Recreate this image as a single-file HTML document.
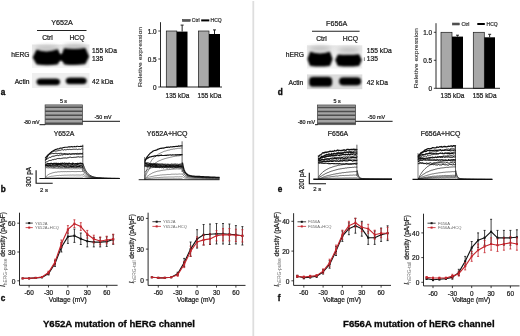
<!DOCTYPE html>
<html><head><meta charset="utf-8"><title>hERG mutation figure</title>
<style>
html,body{margin:0;padding:0;background:#fff;}
body{width:520px;height:336px;overflow:hidden;}
svg{display:block;font-family:"Liberation Sans",sans-serif;}
</style></head><body>
<svg width="520" height="336" viewBox="0 0 520 336">
<defs>
<filter id="b1" x="-20%" y="-40%" width="140%" height="180%"><feGaussianBlur stdDeviation="0.9"/></filter>
<filter id="b2" x="-20%" y="-40%" width="140%" height="180%"><feGaussianBlur stdDeviation="0.85"/></filter>
<filter id="b3" x="-30%" y="-60%" width="160%" height="220%"><feGaussianBlur stdDeviation="2"/></filter>
<filter id="tb"><feGaussianBlur stdDeviation="0.3"/></filter>
<linearGradient id="bg1" x1="0" y1="0" x2="0" y2="1"><stop offset="0" stop-color="#e6e6e6"/><stop offset="1" stop-color="#f4f4f4"/></linearGradient>
</defs>
<rect width="520" height="336" fill="#fff"/>
<rect x="252.4" y="1" width="1.8" height="335" fill="#dedede"/>

<text x="62.0" y="24.8" font-size="7.2" text-anchor="middle" font-weight="normal" fill="#1a1a1a" stroke="#1a1a1a" stroke-width="0.22" >Y652A</text>
<line x1="37" y1="30.5" x2="86.5" y2="30.5" stroke="#222" stroke-width="1.1"/>
<text x="47.5" y="40.4" font-size="6.8" text-anchor="middle" font-weight="normal" fill="#1a1a1a" stroke="#1a1a1a" stroke-width="0.22" >Ctrl</text>
<text x="77.0" y="40.4" font-size="6.8" text-anchor="middle" font-weight="normal" fill="#1a1a1a" stroke="#1a1a1a" stroke-width="0.22" >HCQ</text>
<rect x="32" y="44.5" width="57.5" height="23.5" fill="url(#bg1)"/>
<rect x="32" y="73" width="57.5" height="15" fill="#efefef"/>
<ellipse cx="47" cy="48" rx="12" ry="2.5" fill="#bdbdbd" filter="url(#b3)"/>
<ellipse cx="75" cy="46.5" rx="12" ry="2.5" fill="#bdbdbd" filter="url(#b3)"/>
<path d="M33.3 57.5 L36.8 50.2 Q47.15 54.0 57.5 49.8 L61 57.5 L57.5 63.8 Q47.15 65.4 36.8 63.8 Z" fill="#050505" stroke="#050505" stroke-width="1.2" stroke-linejoin="round" filter="url(#b1)"/>
<path d="M61 57.5 L64.5 48.8 Q74.75 50.5 85.0 48.6 L88.5 56.5 L85.0 63.6 Q74.75 65.1 64.5 63.8 Z" fill="#050505" stroke="#050505" stroke-width="1.2" stroke-linejoin="round" filter="url(#b1)"/>
<path d="M58 55 H65 V60 H58Z" fill="#050505" stroke="#050505" stroke-width="1.2" stroke-linejoin="round" filter="url(#b1)"/>
<rect x="36.6" y="78.8" width="23.4" height="6.200000000000003" rx="4" ry="3.4" fill="#000" stroke="#000" stroke-width="0.3" filter="url(#b2)"/>
<rect x="65.8" y="77.8" width="20.799999999999997" height="6.200000000000003" rx="4" ry="3.4" fill="#000" stroke="#000" stroke-width="0.3" filter="url(#b2)"/>
<text x="29.5" y="57.3" font-size="6.7" text-anchor="end" font-weight="normal" fill="#1a1a1a" stroke="#1a1a1a" stroke-width="0.22" >hERG</text>
<text x="29.5" y="84.0" font-size="6.7" text-anchor="end" font-weight="normal" fill="#1a1a1a" stroke="#1a1a1a" stroke-width="0.22" >Actin</text>
<text x="92.0" y="52.8" font-size="6.7" text-anchor="start" font-weight="normal" fill="#1a1a1a" stroke="#1a1a1a" stroke-width="0.22" >155 kDa</text>
<text x="92.0" y="61.3" font-size="6.7" text-anchor="start" font-weight="normal" fill="#1a1a1a" stroke="#1a1a1a" stroke-width="0.22" >135</text>
<text x="92.0" y="84.0" font-size="6.7" text-anchor="start" font-weight="normal" fill="#1a1a1a" stroke="#1a1a1a" stroke-width="0.22" >42 kDa</text>
<text x="336.6" y="25.5" font-size="7.2" text-anchor="middle" font-weight="normal" fill="#1a1a1a" stroke="#1a1a1a" stroke-width="0.22" >F656A</text>
<line x1="312" y1="31.3" x2="359.6" y2="31.3" stroke="#222" stroke-width="1.1"/>
<text x="321.5" y="40.8" font-size="6.8" text-anchor="middle" font-weight="normal" fill="#1a1a1a" stroke="#1a1a1a" stroke-width="0.22" >Ctrl</text>
<text x="350.4" y="40.8" font-size="6.8" text-anchor="middle" font-weight="normal" fill="#1a1a1a" stroke="#1a1a1a" stroke-width="0.22" >HCQ</text>
<rect x="307" y="45.3" width="55.30000000000001" height="23.299999999999997" fill="url(#bg1)"/>
<rect x="307" y="74.4" width="55.30000000000001" height="14.799999999999997" fill="#dcdcdc"/>
<ellipse cx="320" cy="48.5" rx="11" ry="2.5" fill="#bdbdbd" filter="url(#b3)"/>
<ellipse cx="349" cy="50" rx="11" ry="2.5" fill="#bdbdbd" filter="url(#b3)"/>
<path d="M308 59 L310.5 52.3 Q320.0 55.7 329.5 52.3 L332 59 L329.5 65.5 Q320.0 66.5 310.5 65.5 Z" fill="#050505" stroke="#050505" stroke-width="1.2" stroke-linejoin="round" filter="url(#b1)"/>
<path d="M335.8 60 L338.3 55 Q348.5 55.9 358.7 54.8 L361.2 60 L358.7 65.5 Q348.5 66.5 338.3 65.5 Z" fill="#050505" stroke="#050505" stroke-width="1.2" stroke-linejoin="round" filter="url(#b1)"/>
<rect x="309.2" y="77" width="22.80000000000001" height="9.599999999999994" rx="4" ry="3.4" fill="#000" stroke="#000" stroke-width="0.3" filter="url(#b2)"/>
<rect x="339.2" y="77.6" width="21.80000000000001" height="7.6000000000000085" rx="4" ry="3.4" fill="#000" stroke="#000" stroke-width="0.3" filter="url(#b2)"/>
<text x="304.0" y="57.3" font-size="6.7" text-anchor="end" font-weight="normal" fill="#1a1a1a" stroke="#1a1a1a" stroke-width="0.22" >hERG</text>
<text x="303.3" y="84.7" font-size="6.7" text-anchor="end" font-weight="normal" fill="#1a1a1a" stroke="#1a1a1a" stroke-width="0.22" >Actin</text>
<text x="366.8" y="52.8" font-size="6.7" text-anchor="start" font-weight="normal" fill="#1a1a1a" stroke="#1a1a1a" stroke-width="0.22" >155 kDa</text>
<text x="366.8" y="61.2" font-size="6.7" text-anchor="start" font-weight="normal" fill="#1a1a1a" stroke="#1a1a1a" stroke-width="0.22" >135</text>
<text x="366.8" y="84.7" font-size="6.7" text-anchor="start" font-weight="normal" fill="#1a1a1a" stroke="#1a1a1a" stroke-width="0.22" >42 kDa</text>
<path d="M364.4 57.3V61" stroke="#555" stroke-width="0.7"/>
<rect x="166.3" y="31" width="10.5" height="56" fill="#a8a8a8" stroke="#1a1a1a" stroke-width="0.7"/>
<rect x="198.4" y="31" width="10.599999999999994" height="56" fill="#a8a8a8" stroke="#1a1a1a" stroke-width="0.7"/>
<rect x="176.8" y="31.6" width="10.699999999999989" height="55.4" fill="#000"/>
<rect x="209" y="34" width="11" height="53" fill="#000"/>
<path d="M182.15 31.6V25.1M180.65 25.1H183.65" stroke="#222" stroke-width="1" fill="none"/>
<path d="M214.5 34V29.9M213.0 29.9H216.0" stroke="#222" stroke-width="1" fill="none"/>
<path d="M160.5 22.2V87H222" stroke="#111" stroke-width="0.9" fill="none"/>
<line x1="158.3" y1="31" x2="160.5" y2="31" stroke="#111" stroke-width="0.8"/>
<text x="156.6" y="33.5" font-size="6.4" text-anchor="end" font-weight="normal" fill="#1a1a1a" stroke="#1a1a1a" stroke-width="0.22" >1.0</text>
<line x1="158.3" y1="59.0" x2="160.5" y2="59.0" stroke="#111" stroke-width="0.8"/>
<text x="156.6" y="61.5" font-size="6.4" text-anchor="end" font-weight="normal" fill="#1a1a1a" stroke="#1a1a1a" stroke-width="0.22" >0.5</text>
<line x1="158.3" y1="87" x2="160.5" y2="87" stroke="#111" stroke-width="0.8"/>
<text x="156.6" y="89.5" font-size="6.4" text-anchor="end" font-weight="normal" fill="#1a1a1a" stroke="#1a1a1a" stroke-width="0.22" >0</text>
<text transform="translate(142.0,57.0) rotate(-90) scale(1,0.82)" font-size="6.9" text-anchor="middle" fill="#2a2a2a" stroke="#2a2a2a" stroke-width="0.12">Reletive expression</text>
<text x="177.5" y="97.5" font-size="6.4" text-anchor="middle" font-weight="normal" fill="#1a1a1a" stroke="#1a1a1a" stroke-width="0.22" >135 kDa</text>
<text x="209.5" y="97.5" font-size="6.4" text-anchor="middle" font-weight="normal" fill="#1a1a1a" stroke="#1a1a1a" stroke-width="0.22" >155 kDa</text>
<rect x="182.4" y="19.4" width="7.799999999999983" height="2" fill="#585858" stroke="#333" stroke-width="0.5"/>
<text x="191.8" y="22.2" font-size="5" text-anchor="start" font-weight="normal" fill="#333" stroke="#333" stroke-width="0.22" >Ctrl</text>
<rect x="201.2" y="19.4" width="8.100000000000023" height="2" fill="#000"/>
<text x="210.6" y="22.2" font-size="5" text-anchor="start" font-weight="normal" fill="#333" stroke="#333" stroke-width="0.22" >HCQ</text>
<rect x="441" y="32.3" width="11" height="56.0" fill="#a8a8a8" stroke="#1a1a1a" stroke-width="0.7"/>
<rect x="473.3" y="32.3" width="11.0" height="56.0" fill="#a8a8a8" stroke="#1a1a1a" stroke-width="0.7"/>
<rect x="452" y="36.6" width="11" height="51.699999999999996" fill="#000"/>
<rect x="484.3" y="37.3" width="10.699999999999989" height="51.0" fill="#000"/>
<path d="M457.5 36.6V35.2M456.0 35.2H459.0" stroke="#222" stroke-width="1" fill="none"/>
<path d="M489.65 37.3V34.3M488.15 34.3H491.15" stroke="#222" stroke-width="1" fill="none"/>
<path d="M436 23.2V88.3H500" stroke="#111" stroke-width="0.9" fill="none"/>
<line x1="433.8" y1="32.3" x2="436" y2="32.3" stroke="#111" stroke-width="0.8"/>
<text x="432.1" y="34.8" font-size="6.4" text-anchor="end" font-weight="normal" fill="#1a1a1a" stroke="#1a1a1a" stroke-width="0.22" >1.0</text>
<line x1="433.8" y1="60.3" x2="436" y2="60.3" stroke="#111" stroke-width="0.8"/>
<text x="432.1" y="62.8" font-size="6.4" text-anchor="end" font-weight="normal" fill="#1a1a1a" stroke="#1a1a1a" stroke-width="0.22" >0.5</text>
<line x1="433.8" y1="88.3" x2="436" y2="88.3" stroke="#111" stroke-width="0.8"/>
<text x="432.1" y="90.8" font-size="6.4" text-anchor="end" font-weight="normal" fill="#1a1a1a" stroke="#1a1a1a" stroke-width="0.22" >0</text>
<text transform="translate(417.6,58.3) rotate(-90) scale(1,0.82)" font-size="6.9" text-anchor="middle" fill="#2a2a2a" stroke="#2a2a2a" stroke-width="0.12">Reletive expression</text>
<text x="452.5" y="97.5" font-size="6.4" text-anchor="middle" font-weight="normal" fill="#1a1a1a" stroke="#1a1a1a" stroke-width="0.22" >135 kDa</text>
<text x="484.6" y="97.5" font-size="6.4" text-anchor="middle" font-weight="normal" fill="#1a1a1a" stroke="#1a1a1a" stroke-width="0.22" >155 kDa</text>
<rect x="452.5" y="23" width="6.800000000000011" height="2" fill="#585858" stroke="#333" stroke-width="0.5"/>
<text x="461.6" y="25.8" font-size="5" text-anchor="start" font-weight="normal" fill="#333" stroke="#333" stroke-width="0.22" >Ctrl</text>
<rect x="477.3" y="23" width="7.5" height="2" fill="#000"/>
<text x="486.6" y="25.8" font-size="5" text-anchor="start" font-weight="normal" fill="#333" stroke="#333" stroke-width="0.22" >HCQ</text>
<text x="0.8" y="95.4" font-size="8.2" text-anchor="start" font-weight="bold" fill="#0a0a0a" stroke="#0a0a0a" stroke-width="0.35" >a</text>
<text x="0.8" y="192.0" font-size="8.2" text-anchor="start" font-weight="bold" fill="#0a0a0a" stroke="#0a0a0a" stroke-width="0.35" >b</text>
<text x="0.8" y="301.2" font-size="8.2" text-anchor="start" font-weight="bold" fill="#0a0a0a" stroke="#0a0a0a" stroke-width="0.35" >c</text>
<text x="277.8" y="95.4" font-size="8.2" text-anchor="start" font-weight="bold" fill="#0a0a0a" stroke="#0a0a0a" stroke-width="0.35" >d</text>
<text x="277.8" y="192.3" font-size="8.2" text-anchor="start" font-weight="bold" fill="#0a0a0a" stroke="#0a0a0a" stroke-width="0.35" >e</text>
<text x="277.8" y="301.2" font-size="8.2" text-anchor="start" font-weight="bold" fill="#0a0a0a" stroke="#0a0a0a" stroke-width="0.35" >f</text>
<rect x="45.1" y="104.9" width="37.300000000000004" height="19.799999999999997" fill="#a4a4a4" stroke="#3a3a3a" stroke-width="0.7"/>
<line x1="45.1" y1="107.36" x2="82.4" y2="107.36" stroke="#4e4e4e" stroke-width="1.5"/>
<line x1="45.1" y1="111.32" x2="82.4" y2="111.32" stroke="#4e4e4e" stroke-width="1.5"/>
<line x1="45.1" y1="115.28" x2="82.4" y2="115.28" stroke="#4e4e4e" stroke-width="1.5"/>
<line x1="45.1" y1="119.24" x2="82.4" y2="119.24" stroke="#4e4e4e" stroke-width="1.5"/>
<line x1="45.1" y1="123.20" x2="82.4" y2="123.20" stroke="#4e4e4e" stroke-width="1.5"/>
<path d="M39.5 124.7H45.1M82.4 121.3H120" stroke="#151515" stroke-width="1" fill="none"/>
<text x="63.5" y="103.4" font-size="5.3" text-anchor="middle" font-weight="normal" fill="#1a1a1a" stroke="#1a1a1a" stroke-width="0.22" >5 s</text>
<text x="39.5" y="124.1" font-size="4.9" text-anchor="end" font-weight="normal" fill="#1a1a1a" stroke="#1a1a1a" stroke-width="0.22" >-80 mV</text>
<text x="94.5" y="119.4" font-size="5.3" text-anchor="start" font-weight="normal" fill="#1a1a1a" stroke="#1a1a1a" stroke-width="0.22" >-50 mV</text>
<rect x="317.5" y="105" width="38.0" height="19.700000000000003" fill="#a4a4a4" stroke="#3a3a3a" stroke-width="0.7"/>
<line x1="317.5" y1="107.44" x2="355.5" y2="107.44" stroke="#4e4e4e" stroke-width="1.5"/>
<line x1="317.5" y1="111.38" x2="355.5" y2="111.38" stroke="#4e4e4e" stroke-width="1.5"/>
<line x1="317.5" y1="115.32" x2="355.5" y2="115.32" stroke="#4e4e4e" stroke-width="1.5"/>
<line x1="317.5" y1="119.26" x2="355.5" y2="119.26" stroke="#4e4e4e" stroke-width="1.5"/>
<line x1="317.5" y1="123.20" x2="355.5" y2="123.20" stroke="#4e4e4e" stroke-width="1.5"/>
<path d="M315 124.7H317.5M355.5 121.3H392.6" stroke="#151515" stroke-width="1" fill="none"/>
<text x="337.0" y="103.4" font-size="5.4" text-anchor="middle" font-weight="normal" fill="#1a1a1a" stroke="#1a1a1a" stroke-width="0.22" >5 s</text>
<text x="315.0" y="124.1" font-size="5.4" text-anchor="end" font-weight="normal" fill="#1a1a1a" stroke="#1a1a1a" stroke-width="0.22" >-80 mV</text>
<text x="367.8" y="119.4" font-size="5.4" text-anchor="start" font-weight="normal" fill="#1a1a1a" stroke="#1a1a1a" stroke-width="0.22" >-50 mV</text>
<path d="M39.4 178.5H119.5" stroke="#111" stroke-width="1.0" fill="none"/>
<path d="M45.7 159.8 L46.4 158.5 L47.2 157.1 L47.9 155.7 L48.7 154.7 L49.4 153.8 L50.2 153.2 L50.9 152.5 L51.6 151.6 L52.4 151.1 L53.1 151.0 L53.9 150.4 L54.6 150.2 L55.3 149.5 L56.1 149.4 L56.8 149.3 L57.6 148.8 L58.3 149.0 L59.1 148.8 L59.8 148.2 L60.5 148.0 L61.3 148.1 L62.0 148.2 L62.8 147.8 L63.5 147.5 L64.2 147.5 L65.0 147.2 L65.7 147.2 L66.5 147.3 L67.2 147.2 L68.0 147.0 L68.7 146.9 L69.4 146.8 L70.2 146.9 L70.9 146.7 L71.7 146.6 L72.4 146.9 L73.2 146.7 L73.9 146.7 L74.6 146.4 L75.4 146.8 L76.1 146.7 L76.9 146.3 L77.6 146.3 L78.3 146.5 L79.1 146.5 L79.8 146.5 L80.6 146.2 L81.3 146.4 L82.1 146.3 L82.8 146.1" stroke="#111" stroke-width="1.1" fill="none" stroke-linejoin="round" stroke-linecap="round"/>
<path d="M45.7 157.6 L46.4 156.8 L47.2 156.0 L47.9 155.2 L48.7 154.8 L49.4 154.1 L50.2 153.9 L50.9 154.0 L51.6 153.6 L52.4 153.4 L53.1 153.5 L53.9 153.6 L54.6 153.5 L55.3 153.3 L56.1 153.4 L56.8 153.4 L57.6 153.6 L58.3 153.5 L59.1 153.4 L59.8 153.5 L60.5 153.3 L61.3 153.3 L62.0 153.7 L62.8 153.9 L63.5 153.7 L64.2 153.6 L65.0 153.5 L65.7 153.7 L66.5 154.0 L67.2 153.9 L68.0 153.8 L68.7 154.0 L69.4 153.7 L70.2 153.9 L70.9 154.1 L71.7 153.9 L72.4 153.9 L73.2 153.8 L73.9 154.0 L74.6 154.2 L75.4 153.6 L76.1 154.1 L76.9 154.2 L77.6 154.2 L78.3 154.1 L79.1 154.2 L79.8 154.0 L80.6 154.0 L81.3 153.9 L82.1 153.7 L82.8 154.2" stroke="#111" stroke-width="1.0" fill="none" stroke-linejoin="round" stroke-linecap="round"/>
<path d="M45.7 157.5 L46.4 156.2 L47.2 155.5 L47.9 154.7 L48.7 153.9 L49.4 153.4 L50.2 153.0 L50.9 152.6 L51.6 152.3 L52.4 151.9 L53.1 151.3 L53.9 151.2 L54.6 151.0 L55.3 151.1 L56.1 151.1 L56.8 150.9 L57.6 150.8 L58.3 150.7 L59.1 150.2 L59.8 150.5 L60.5 150.3 L61.3 149.9 L62.0 149.8 L62.8 149.7 L63.5 150.1 L64.2 149.7 L65.0 149.6 L65.7 149.9 L66.5 149.7 L67.2 149.4 L68.0 149.5 L68.7 149.6 L69.4 149.4 L70.2 149.4 L70.9 149.7 L71.7 149.5 L72.4 149.4 L73.2 149.4 L73.9 149.1 L74.6 149.3 L75.4 149.3 L76.1 149.2 L76.9 149.1 L77.6 149.6 L78.3 149.3 L79.1 149.1 L79.8 149.3 L80.6 149.4 L81.3 148.9 L82.1 148.9 L82.8 149.0" stroke="#111" stroke-width="0.9" fill="none" stroke-linejoin="round" stroke-linecap="round"/>
<path d="M45.7 160.1 L46.4 159.2 L47.2 158.9 L47.9 158.5 L48.7 158.0 L49.4 157.4 L50.2 157.5 L50.9 157.2 L51.6 156.7 L52.4 156.3 L53.1 156.4 L53.9 156.0 L54.6 156.0 L55.3 155.7 L56.1 155.7 L56.8 155.3 L57.6 155.3 L58.3 155.6 L59.1 155.4 L59.8 155.0 L60.5 155.2 L61.3 154.8 L62.0 155.1 L62.8 154.9 L63.5 154.6 L64.2 154.4 L65.0 154.2 L65.7 154.7 L66.5 154.1 L67.2 154.5 L68.0 154.5 L68.7 154.2 L69.4 154.0 L70.2 154.3 L70.9 154.3 L71.7 154.1 L72.4 153.9 L73.2 153.8 L73.9 153.8 L74.6 153.6 L75.4 153.9 L76.1 153.7 L76.9 153.5 L77.6 153.4 L78.3 153.7 L79.1 153.4 L79.8 153.5 L80.6 153.4 L81.3 153.7 L82.1 153.7 L82.8 153.1" stroke="#111" stroke-width="1.0" fill="none" stroke-linejoin="round" stroke-linecap="round"/>
<path d="M45.7 162.3 L46.4 161.9 L47.2 161.9 L47.9 161.4 L48.7 160.8 L49.4 160.5 L50.2 160.5 L50.9 160.4 L51.6 160.2 L52.4 159.7 L53.1 159.8 L53.9 159.5 L54.6 159.3 L55.3 159.4 L56.1 158.9 L56.8 159.0 L57.6 158.5 L58.3 158.5 L59.1 158.8 L59.8 158.3 L60.5 158.6 L61.3 158.4 L62.0 158.4 L62.8 158.1 L63.5 158.0 L64.2 157.9 L65.0 158.2 L65.7 157.9 L66.5 158.1 L67.2 158.0 L68.0 157.5 L68.7 157.7 L69.4 157.3 L70.2 157.2 L70.9 157.2 L71.7 157.6 L72.4 157.5 L73.2 157.5 L73.9 157.2 L74.6 157.3 L75.4 157.3 L76.1 157.1 L76.9 157.1 L77.6 156.9 L78.3 156.8 L79.1 156.8 L79.8 157.2 L80.6 156.9 L81.3 157.1 L82.1 156.8 L82.8 156.7" stroke="#111" stroke-width="1.0" fill="none" stroke-linejoin="round" stroke-linecap="round"/>
<path d="M45.7 164.4 L46.4 164.3 L47.2 163.6 L47.9 163.9 L48.7 163.5 L49.4 163.5 L50.2 163.9 L50.9 163.3 L51.6 163.4 L52.4 163.8 L53.1 163.5 L53.9 163.3 L54.6 163.3 L55.3 163.3 L56.1 163.6 L56.8 163.2 L57.6 163.7 L58.3 163.4 L59.1 163.7 L59.8 163.7 L60.5 163.3 L61.3 163.3 L62.0 163.4 L62.8 163.2 L63.5 163.5 L64.2 163.2 L65.0 163.2 L65.7 163.8 L66.5 163.3 L67.2 163.5 L68.0 163.4 L68.7 163.4 L69.4 163.2 L70.2 163.7 L70.9 163.8 L71.7 163.8 L72.4 163.2 L73.2 163.3 L73.9 163.6 L74.6 163.8 L75.4 163.5 L76.1 163.6 L76.9 163.6 L77.6 163.3 L78.3 163.5 L79.1 163.4 L79.8 163.3 L80.6 163.2 L81.3 163.4 L82.1 163.8 L82.8 163.5" stroke="#111" stroke-width="1.2" fill="none" stroke-linejoin="round" stroke-linecap="round"/>
<path d="M45.7 165.5 L46.4 165.4 L47.2 165.4 L47.9 165.0 L48.7 164.9 L49.4 164.8 L50.2 164.8 L50.9 165.1 L51.6 165.1 L52.4 164.7 L53.1 164.7 L53.9 164.8 L54.6 164.8 L55.3 164.8 L56.1 164.6 L56.8 164.5 L57.6 164.6 L58.3 164.5 L59.1 164.8 L59.8 164.5 L60.5 164.5 L61.3 164.9 L62.0 164.7 L62.8 165.0 L63.5 164.8 L64.2 165.0 L65.0 164.6 L65.7 164.8 L66.5 165.0 L67.2 164.6 L68.0 165.1 L68.7 164.7 L69.4 165.0 L70.2 165.1 L70.9 165.1 L71.7 164.8 L72.4 164.6 L73.2 164.9 L73.9 165.1 L74.6 164.8 L75.4 165.1 L76.1 164.7 L76.9 165.1 L77.6 164.6 L78.3 164.8 L79.1 165.1 L79.8 165.1 L80.6 165.1 L81.3 165.1 L82.1 165.0 L82.8 165.0" stroke="#111" stroke-width="1.2" fill="none" stroke-linejoin="round" stroke-linecap="round"/>
<path d="M45.7 165.3 L46.4 165.5 L47.2 165.4 L47.9 165.8 L48.7 165.8 L49.4 165.6 L50.2 165.5 L50.9 166.1 L51.6 166.0 L52.4 165.9 L53.1 165.9 L53.9 166.1 L54.6 165.9 L55.3 165.9 L56.1 165.9 L56.8 165.9 L57.6 165.7 L58.3 166.1 L59.1 166.0 L59.8 166.1 L60.5 165.8 L61.3 166.0 L62.0 165.9 L62.8 165.9 L63.5 166.0 L64.2 166.4 L65.0 166.1 L65.7 166.1 L66.5 166.3 L67.2 166.0 L68.0 165.9 L68.7 166.2 L69.4 166.2 L70.2 166.3 L70.9 166.2 L71.7 166.4 L72.4 166.4 L73.2 166.1 L73.9 166.3 L74.6 166.2 L75.4 166.1 L76.1 166.2 L76.9 166.3 L77.6 166.5 L78.3 166.5 L79.1 166.2 L79.8 166.4 L80.6 166.0 L81.3 166.0 L82.1 166.3 L82.8 166.5" stroke="#111" stroke-width="1.2" fill="none" stroke-linejoin="round" stroke-linecap="round"/>
<path d="M45.7 166.4 L46.4 166.8 L47.2 166.9 L47.9 166.6 L48.7 166.9 L49.4 167.0 L50.2 166.8 L50.9 167.0 L51.6 167.1 L52.4 167.0 L53.1 167.2 L53.9 167.2 L54.6 167.3 L55.3 167.1 L56.1 166.9 L56.8 166.9 L57.6 167.0 L58.3 167.2 L59.1 167.3 L59.8 166.9 L60.5 167.3 L61.3 167.3 L62.0 167.1 L62.8 167.2 L63.5 167.0 L64.2 167.4 L65.0 167.0 L65.7 167.6 L66.5 167.5 L67.2 167.4 L68.0 167.2 L68.7 167.6 L69.4 167.6 L70.2 167.1 L70.9 167.5 L71.7 167.5 L72.4 167.4 L73.2 167.5 L73.9 167.3 L74.6 167.6 L75.4 167.6 L76.1 167.3 L76.9 167.6 L77.6 167.3 L78.3 167.2 L79.1 167.3 L79.8 167.2 L80.6 167.6 L81.3 167.7 L82.1 167.2 L82.8 167.5" stroke="#111" stroke-width="1.0" fill="none" stroke-linejoin="round" stroke-linecap="round"/>
<path d="M45.7 167.8 L46.4 167.7 L47.2 167.9 L47.9 167.9 L48.7 168.1 L49.4 167.9 L50.2 168.0 L50.9 168.1 L51.6 168.1 L52.4 168.3 L53.1 168.3 L53.9 168.4 L54.6 168.3 L55.3 168.3 L56.1 168.4 L56.8 168.4 L57.6 168.5 L58.3 168.4 L59.1 168.6 L59.8 168.6 L60.5 168.6 L61.3 168.7 L62.0 168.6 L62.8 168.6 L63.5 168.7 L64.2 168.7 L65.0 168.7 L65.7 168.6 L66.5 168.6 L67.2 168.6 L68.0 168.8 L68.7 168.6 L69.4 168.8 L70.2 168.7 L70.9 168.9 L71.7 168.8 L72.4 168.9 L73.2 168.6 L73.9 168.7 L74.6 168.8 L75.4 168.7 L76.1 168.8 L76.9 168.7 L77.6 168.8 L78.3 168.6 L79.1 168.8 L79.8 168.8 L80.6 168.7 L81.3 168.8 L82.1 168.9 L82.8 168.9" stroke="#111" stroke-width="0.5" fill="none" stroke-linejoin="round" stroke-linecap="round"/>
<path d="M45.7 177.0 L46.4 176.2 L47.2 175.5 L47.9 174.9 L48.7 174.4 L49.4 174.0 L50.2 173.7 L50.9 173.5 L51.6 173.2 L52.4 172.9 L53.1 172.8 L53.9 172.5 L54.6 172.4 L55.3 172.2 L56.1 172.2 L56.8 172.2 L57.6 171.9 L58.3 171.8 L59.1 171.9 L59.8 171.8 L60.5 171.7 L61.3 171.6 L62.0 171.7 L62.8 171.7 L63.5 171.6 L64.2 171.7 L65.0 171.6 L65.7 171.6 L66.5 171.7 L67.2 171.6 L68.0 171.6 L68.7 171.6 L69.4 171.6 L70.2 171.6 L70.9 171.6 L71.7 171.5 L72.4 171.5 L73.2 171.5 L73.9 171.6 L74.6 171.6 L75.4 171.6 L76.1 171.6 L76.9 171.6 L77.6 171.5 L78.3 171.5 L79.1 171.5 L79.8 171.5 L80.6 171.6 L81.3 171.5 L82.1 171.4 L82.8 171.6" stroke="#111" stroke-width="0.5" fill="none" stroke-linejoin="round" stroke-linecap="round"/>
<path d="M45.7 178.0 L46.4 177.7 L47.2 177.4 L47.9 177.2 L48.7 177.1 L49.4 176.8 L50.2 176.6 L50.9 176.5 L51.6 176.2 L52.4 176.2 L53.1 176.2 L53.9 176.0 L54.6 175.9 L55.3 175.8 L56.1 175.7 L56.8 175.6 L57.6 175.5 L58.3 175.6 L59.1 175.4 L59.8 175.3 L60.5 175.5 L61.3 175.4 L62.0 175.3 L62.8 175.3 L63.5 175.3 L64.2 175.2 L65.0 175.2 L65.7 175.2 L66.5 175.2 L67.2 175.1 L68.0 175.2 L68.7 175.1 L69.4 175.1 L70.2 175.0 L70.9 175.1 L71.7 175.1 L72.4 175.0 L73.2 175.0 L73.9 175.1 L74.6 175.1 L75.4 175.1 L76.1 174.9 L76.9 175.1 L77.6 175.0 L78.3 175.0 L79.1 175.0 L79.8 175.1 L80.6 175.1 L81.3 174.9 L82.1 175.0 L82.8 174.9" stroke="#111" stroke-width="0.45" fill="none" stroke-linejoin="round" stroke-linecap="round"/>
<path d="M45.7 178.3 L46.4 178.2 L47.2 178.2 L47.9 178.1 L48.7 178.1 L49.4 178.0 L50.2 178.0 L50.9 177.9 L51.6 177.8 L52.4 177.8 L53.1 177.8 L53.9 177.8 L54.6 177.7 L55.3 177.7 L56.1 177.7 L56.8 177.6 L57.6 177.5 L58.3 177.5 L59.1 177.5 L59.8 177.5 L60.5 177.5 L61.3 177.4 L62.0 177.5 L62.8 177.5 L63.5 177.4 L64.2 177.4 L65.0 177.4 L65.7 177.4 L66.5 177.4 L67.2 177.4 L68.0 177.3 L68.7 177.4 L69.4 177.3 L70.2 177.3 L70.9 177.3 L71.7 177.3 L72.4 177.3 L73.2 177.3 L73.9 177.2 L74.6 177.2 L75.4 177.3 L76.1 177.2 L76.9 177.2 L77.6 177.2 L78.3 177.2 L79.1 177.2 L79.8 177.2 L80.6 177.3 L81.3 177.3 L82.1 177.2 L82.8 177.2" stroke="#111" stroke-width="0.4" fill="none" stroke-linejoin="round" stroke-linecap="round"/>
<path d="M83.1 164.0 L83.1 164.2 L83.3 164.6 L83.4 165.1 L83.7 165.8 L84.0 166.6 L84.3 167.5 L84.7 168.4 L85.1 169.4 L85.6 170.3 L86.1 171.2 L86.7 172.1 L87.3 172.8 L87.9 173.6 L88.6 174.2 L89.3 174.8 L90.1 175.4 L90.9 175.8 L91.7 176.2 L92.6 176.6 L93.6 176.9 L94.5 177.1 L95.5 177.3 L96.5 177.5 L97.6 177.7 L98.7 177.8 L99.9 177.9 L101.0 178.0 L102.3 178.1 L103.5 178.1 L104.8 178.2 L106.1 178.2 L107.5 178.3 L108.8 178.3 L110.3 178.3 L111.7 178.4 L113.2 178.4 L114.7 178.4 L116.3 178.4 L117.9 178.4 L119.5 178.4" stroke="#111" stroke-width="1.0" fill="none" stroke-linejoin="round"/>
<path d="M83.1 167.2 L83.1 167.3 L83.3 167.7 L83.4 168.1 L83.7 168.7 L84.0 169.4 L84.3 170.1 L84.7 170.8 L85.1 171.6 L85.6 172.3 L86.1 173.0 L86.7 173.7 L87.3 174.3 L87.9 174.9 L88.6 175.4 L89.3 175.9 L90.1 176.2 L90.9 176.6 L91.7 176.9 L92.6 177.1 L93.6 177.3 L94.5 177.5 L95.5 177.7 L96.5 177.8 L97.6 177.9 L98.7 178.0 L99.9 178.1 L101.0 178.1 L102.3 178.2 L103.5 178.2 L104.8 178.3 L106.1 178.3 L107.5 178.3 L108.8 178.4 L110.3 178.4 L111.7 178.4 L113.2 178.4 L114.7 178.4 L116.3 178.4 L117.9 178.4 L119.5 178.5" stroke="#111" stroke-width="0.8" fill="none" stroke-linejoin="round"/>
<path d="M83.1 170.3 L83.1 170.4 L83.3 170.7 L83.4 171.0 L83.7 171.5 L84.0 172.0 L84.3 172.5 L84.7 173.1 L85.1 173.6 L85.6 174.2 L86.1 174.7 L86.7 175.2 L87.3 175.7 L87.9 176.1 L88.6 176.4 L89.3 176.7 L90.1 177.0 L90.9 177.2 L91.7 177.4 L92.6 177.6 L93.6 177.8 L94.5 177.9 L95.5 178.0 L96.5 178.1 L97.6 178.1 L98.7 178.2 L99.9 178.2 L101.0 178.3 L102.3 178.3 L103.5 178.3 L104.8 178.4 L106.1 178.4 L107.5 178.4 L108.8 178.4 L110.3 178.4 L111.7 178.4 L113.2 178.4 L114.7 178.4 L116.3 178.5 L117.9 178.5 L119.5 178.5" stroke="#111" stroke-width="0.7" fill="none" stroke-linejoin="round"/>
<path d="M83.1 173.7 L83.1 173.8 L83.3 173.9 L83.4 174.2 L83.7 174.4 L84.0 174.8 L84.3 175.1 L84.7 175.5 L85.1 175.8 L85.6 176.1 L86.1 176.4 L86.7 176.7 L87.3 177.0 L87.9 177.2 L88.6 177.4 L89.3 177.6 L90.1 177.7 L90.9 177.8 L91.7 177.9 L92.6 178.0 L93.6 178.1 L94.5 178.2 L95.5 178.2 L96.5 178.2 L97.6 178.3 L98.7 178.3 L99.9 178.3 L101.0 178.4 L102.3 178.4 L103.5 178.4 L104.8 178.4 L106.1 178.4 L107.5 178.4 L108.8 178.4 L110.3 178.4 L111.7 178.5 L113.2 178.5 L114.7 178.5 L116.3 178.5 L117.9 178.5 L119.5 178.5" stroke="#111" stroke-width="0.5" fill="none" stroke-linejoin="round"/>
<path d="M83.1 176.1 L83.1 176.1 L83.3 176.2 L83.4 176.3 L83.7 176.5 L84.0 176.6 L84.3 176.8 L84.7 177.0 L85.1 177.1 L85.6 177.3 L86.1 177.5 L86.7 177.6 L87.3 177.7 L87.9 177.9 L88.6 177.9 L89.3 178.0 L90.1 178.1 L90.9 178.2 L91.7 178.2 L92.6 178.3 L93.6 178.3 L94.5 178.3 L95.5 178.4 L96.5 178.4 L97.6 178.4 L98.7 178.4 L99.9 178.4 L101.0 178.4 L102.3 178.4 L103.5 178.4 L104.8 178.5 L106.1 178.5 L107.5 178.5 L108.8 178.5 L110.3 178.5 L111.7 178.5 L113.2 178.5 L114.7 178.5 L116.3 178.5 L117.9 178.5 L119.5 178.5" stroke="#111" stroke-width="0.4" fill="none" stroke-linejoin="round"/>
<path d="M45.4 178.5V157" stroke="#222" stroke-width="0.6" fill="none"/>
<path d="M82.8 144.7V171" stroke="#222" stroke-width="0.7" fill="none"/>
<path d="M138.7 179.7H219.5" stroke="#111" stroke-width="0.9" fill="none"/>
<path d="M144.9 161.7 L145.6 160.0 L146.4 158.0 L147.1 156.8 L147.9 156.0 L148.6 155.0 L149.4 154.2 L150.1 153.3 L150.9 152.8 L151.6 152.2 L152.3 151.7 L153.1 151.1 L153.8 150.8 L154.6 150.5 L155.3 150.3 L156.1 150.2 L156.8 149.9 L157.5 149.4 L158.3 149.1 L159.0 148.9 L159.8 148.5 L160.5 148.4 L161.3 148.4 L162.0 148.2 L162.8 148.1 L163.5 148.2 L164.2 147.9 L165.0 147.7 L165.7 147.5 L166.5 147.2 L167.2 147.3 L168.0 147.1 L168.7 147.2 L169.5 147.3 L170.2 147.0 L170.9 146.7 L171.7 147.0 L172.4 146.8 L173.2 146.7 L173.9 146.7 L174.7 146.6 L175.4 146.5 L176.1 146.2 L176.9 146.5 L177.6 146.4 L178.4 145.9 L179.1 146.2 L179.9 146.1 L180.6 145.9 L181.4 145.9 L182.1 145.8" stroke="#111" stroke-width="1.2" fill="none" stroke-linejoin="round" stroke-linecap="round"/>
<path d="M144.9 176.1 L145.6 173.3 L146.4 171.0 L147.1 168.8 L147.9 167.1 L148.6 165.5 L149.4 163.9 L150.1 162.6 L150.9 161.5 L151.6 160.4 L152.3 159.4 L153.1 158.5 L153.8 157.7 L154.6 157.1 L155.3 156.3 L156.1 155.9 L156.8 155.2 L157.5 154.8 L158.3 154.2 L159.0 153.9 L159.8 153.4 L160.5 153.0 L161.3 152.6 L162.0 152.3 L162.8 152.0 L163.5 151.6 L164.2 151.3 L165.0 151.1 L165.7 151.0 L166.5 150.7 L167.2 150.4 L168.0 150.3 L168.7 150.1 L169.5 150.0 L170.2 149.6 L170.9 149.6 L171.7 149.3 L172.4 149.3 L173.2 149.1 L173.9 148.9 L174.7 149.0 L175.4 148.7 L176.1 148.7 L176.9 148.6 L177.6 148.4 L178.4 148.3 L179.1 148.4 L179.9 148.2 L180.6 148.2 L181.4 148.0 L182.1 148.0" stroke="#111" stroke-width="0.5" fill="none" stroke-linejoin="round" stroke-linecap="round"/>
<path d="M144.9 159.9 L145.6 159.5 L146.4 158.6 L147.1 158.7 L147.9 157.7 L148.6 157.8 L149.4 157.1 L150.1 156.9 L150.9 157.0 L151.6 156.5 L152.3 156.3 L153.1 156.5 L153.8 156.1 L154.6 155.8 L155.3 156.3 L156.1 155.7 L156.8 155.5 L157.5 155.6 L158.3 155.7 L159.0 155.8 L159.8 155.3 L160.5 155.4 L161.3 155.2 L162.0 155.4 L162.8 155.5 L163.5 155.5 L164.2 155.5 L165.0 155.4 L165.7 155.4 L166.5 155.3 L167.2 155.1 L168.0 155.0 L168.7 155.2 L169.5 155.0 L170.2 154.8 L170.9 155.0 L171.7 155.2 L172.4 154.8 L173.2 155.0 L173.9 154.9 L174.7 155.0 L175.4 154.7 L176.1 155.2 L176.9 154.7 L177.6 154.9 L178.4 154.8 L179.1 154.6 L179.9 154.9 L180.6 154.6 L181.4 154.5 L182.1 154.5" stroke="#111" stroke-width="1.2" fill="none" stroke-linejoin="round" stroke-linecap="round"/>
<path d="M144.9 177.9 L145.6 175.9 L146.4 174.2 L147.1 172.6 L147.9 171.3 L148.6 170.1 L149.4 169.0 L150.1 167.9 L150.9 167.0 L151.6 166.2 L152.3 165.5 L153.1 164.8 L153.8 164.2 L154.6 163.7 L155.3 163.0 L156.1 162.6 L156.8 162.2 L157.5 161.6 L158.3 161.2 L159.0 160.9 L159.8 160.5 L160.5 160.3 L161.3 159.9 L162.0 159.6 L162.8 159.3 L163.5 159.1 L164.2 158.8 L165.0 158.7 L165.7 158.4 L166.5 158.2 L167.2 158.0 L168.0 157.8 L168.7 157.7 L169.5 157.5 L170.2 157.3 L170.9 157.1 L171.7 157.0 L172.4 156.8 L173.2 156.6 L173.9 156.5 L174.7 156.4 L175.4 156.2 L176.1 156.1 L176.9 156.1 L177.6 155.9 L178.4 155.9 L179.1 155.8 L179.9 155.7 L180.6 155.5 L181.4 155.6 L182.1 155.4" stroke="#111" stroke-width="0.5" fill="none" stroke-linejoin="round" stroke-linecap="round"/>
<path d="M144.9 163.3 L145.6 163.8 L146.4 163.6 L147.1 163.8 L147.9 164.3 L148.6 164.2 L149.4 163.9 L150.1 164.3 L150.9 164.3 L151.6 164.4 L152.3 164.3 L153.1 164.6 L153.8 164.4 L154.6 164.5 L155.3 164.6 L156.1 165.0 L156.8 164.5 L157.5 165.0 L158.3 164.7 L159.0 164.9 L159.8 164.8 L160.5 164.9 L161.3 165.1 L162.0 164.9 L162.8 164.8 L163.5 164.8 L164.2 164.8 L165.0 165.3 L165.7 165.1 L166.5 165.3 L167.2 165.2 L168.0 164.8 L168.7 165.2 L169.5 165.3 L170.2 165.3 L170.9 165.1 L171.7 165.1 L172.4 165.1 L173.2 165.3 L173.9 165.0 L174.7 165.2 L175.4 165.2 L176.1 165.4 L176.9 165.4 L177.6 165.4 L178.4 165.4 L179.1 165.1 L179.9 165.0 L180.6 165.2 L181.4 165.1 L182.1 165.2" stroke="#111" stroke-width="1.2" fill="none" stroke-linejoin="round" stroke-linecap="round"/>
<path d="M144.9 164.7 L145.6 165.0 L146.4 164.9 L147.1 165.1 L147.9 164.8 L148.6 165.1 L149.4 165.5 L150.1 165.1 L150.9 165.3 L151.6 165.2 L152.3 165.2 L153.1 165.8 L153.8 165.9 L154.6 165.7 L155.3 165.5 L156.1 165.6 L156.8 165.6 L157.5 165.9 L158.3 166.0 L159.0 165.8 L159.8 165.9 L160.5 165.7 L161.3 166.0 L162.0 166.2 L162.8 166.1 L163.5 165.8 L164.2 166.0 L165.0 166.2 L165.7 165.9 L166.5 166.3 L167.2 166.1 L168.0 166.2 L168.7 166.0 L169.5 166.4 L170.2 166.3 L170.9 166.2 L171.7 165.9 L172.4 166.1 L173.2 165.9 L173.9 166.2 L174.7 166.4 L175.4 166.0 L176.1 166.2 L176.9 166.2 L177.6 166.1 L178.4 166.3 L179.1 166.5 L179.9 166.3 L180.6 166.2 L181.4 166.5 L182.1 166.1" stroke="#111" stroke-width="1.2" fill="none" stroke-linejoin="round" stroke-linecap="round"/>
<path d="M144.9 165.6 L145.6 165.7 L146.4 165.9 L147.1 166.0 L147.9 165.7 L148.6 166.0 L149.4 166.0 L150.1 166.2 L150.9 166.5 L151.6 166.3 L152.3 166.0 L153.1 166.3 L153.8 166.5 L154.6 166.7 L155.3 166.6 L156.1 166.7 L156.8 166.2 L157.5 166.8 L158.3 166.7 L159.0 166.7 L159.8 166.9 L160.5 166.9 L161.3 166.4 L162.0 166.9 L162.8 166.9 L163.5 166.6 L164.2 166.9 L165.0 166.8 L165.7 166.6 L166.5 167.0 L167.2 166.6 L168.0 166.9 L168.7 166.8 L169.5 166.7 L170.2 166.9 L170.9 166.8 L171.7 166.7 L172.4 167.1 L173.2 166.6 L173.9 166.6 L174.7 166.9 L175.4 167.1 L176.1 167.0 L176.9 167.0 L177.6 166.9 L178.4 167.0 L179.1 166.8 L179.9 166.8 L180.6 166.9 L181.4 166.6 L182.1 166.6" stroke="#111" stroke-width="1.1" fill="none" stroke-linejoin="round" stroke-linecap="round"/>
<path d="M144.9 166.5 L145.6 166.2 L146.4 166.7 L147.1 166.8 L147.9 166.7 L148.6 166.9 L149.4 167.1 L150.1 167.2 L150.9 166.8 L151.6 166.9 L152.3 167.1 L153.1 167.2 L153.8 167.1 L154.6 167.0 L155.3 167.4 L156.1 167.6 L156.8 167.3 L157.5 167.5 L158.3 167.4 L159.0 167.5 L159.8 167.7 L160.5 167.4 L161.3 167.7 L162.0 167.6 L162.8 167.6 L163.5 167.9 L164.2 167.4 L165.0 167.8 L165.7 167.5 L166.5 167.8 L167.2 167.9 L168.0 167.8 L168.7 167.6 L169.5 167.9 L170.2 167.5 L170.9 167.8 L171.7 167.7 L172.4 167.8 L173.2 168.0 L173.9 167.9 L174.7 167.8 L175.4 167.7 L176.1 167.6 L176.9 167.8 L177.6 167.6 L178.4 167.7 L179.1 168.1 L179.9 167.6 L180.6 168.0 L181.4 167.7 L182.1 167.7" stroke="#111" stroke-width="1.0" fill="none" stroke-linejoin="round" stroke-linecap="round"/>
<path d="M144.9 162.5 L145.6 162.5 L146.4 162.8 L147.1 162.7 L147.9 163.0 L148.6 163.0 L149.4 163.5 L150.1 163.6 L150.9 163.3 L151.6 163.5 L152.3 163.8 L153.1 163.4 L153.8 163.4 L154.6 163.5 L155.3 163.5 L156.1 163.8 L156.8 163.7 L157.5 163.7 L158.3 164.0 L159.0 163.7 L159.8 164.1 L160.5 164.0 L161.3 163.9 L162.0 164.2 L162.8 163.9 L163.5 164.2 L164.2 164.3 L165.0 164.0 L165.7 164.2 L166.5 164.3 L167.2 164.2 L168.0 164.2 L168.7 164.3 L169.5 164.4 L170.2 164.3 L170.9 164.4 L171.7 164.0 L172.4 164.2 L173.2 164.3 L173.9 164.1 L174.7 164.1 L175.4 164.0 L176.1 164.4 L176.9 164.1 L177.6 164.2 L178.4 164.4 L179.1 164.0 L179.9 164.5 L180.6 164.0 L181.4 163.9 L182.1 164.1" stroke="#111" stroke-width="1.0" fill="none" stroke-linejoin="round" stroke-linecap="round"/>
<path d="M144.9 172.0 L145.6 171.2 L146.4 170.5 L147.1 169.9 L147.9 169.4 L148.6 169.0 L149.4 168.6 L150.1 168.4 L150.9 168.1 L151.6 167.8 L152.3 167.7 L153.1 167.5 L153.8 167.4 L154.6 167.4 L155.3 167.2 L156.1 167.1 L156.8 167.1 L157.5 167.0 L158.3 167.0 L159.0 166.9 L159.8 166.9 L160.5 166.9 L161.3 166.9 L162.0 166.9 L162.8 166.8 L163.5 166.8 L164.2 166.9 L165.0 166.8 L165.7 166.8 L166.5 166.9 L167.2 166.8 L168.0 166.9 L168.7 166.7 L169.5 166.8 L170.2 166.9 L170.9 166.8 L171.7 166.9 L172.4 166.8 L173.2 166.8 L173.9 166.9 L174.7 166.8 L175.4 166.8 L176.1 166.8 L176.9 166.8 L177.6 166.9 L178.4 166.8 L179.1 166.8 L179.9 166.8 L180.6 166.9 L181.4 166.9 L182.1 166.9" stroke="#111" stroke-width="0.5" fill="none" stroke-linejoin="round" stroke-linecap="round"/>
<path d="M144.9 179.0 L145.6 178.0 L146.4 177.2 L147.1 176.4 L147.9 175.8 L148.6 175.4 L149.4 174.7 L150.1 174.3 L150.9 173.9 L151.6 173.5 L152.3 173.0 L153.1 172.7 L153.8 172.5 L154.6 172.1 L155.3 171.9 L156.1 171.7 L156.8 171.4 L157.5 171.2 L158.3 171.1 L159.0 170.9 L159.8 170.9 L160.5 170.7 L161.3 170.4 L162.0 170.5 L162.8 170.2 L163.5 170.1 L164.2 170.1 L165.0 169.9 L165.7 169.9 L166.5 169.7 L167.2 169.6 L168.0 169.7 L168.7 169.6 L169.5 169.5 L170.2 169.5 L170.9 169.4 L171.7 169.2 L172.4 169.2 L173.2 169.1 L173.9 169.1 L174.7 169.0 L175.4 169.0 L176.1 168.9 L176.9 168.9 L177.6 168.9 L178.4 169.0 L179.1 169.0 L179.9 169.0 L180.6 168.9 L181.4 168.8 L182.1 168.9" stroke="#111" stroke-width="0.5" fill="none" stroke-linejoin="round" stroke-linecap="round"/>
<path d="M144.9 178.4 L145.6 178.1 L146.4 178.0 L147.1 177.7 L147.9 177.4 L148.6 177.2 L149.4 177.0 L150.1 176.9 L150.9 176.7 L151.6 176.5 L152.3 176.4 L153.1 176.3 L153.8 176.1 L154.6 175.9 L155.3 175.8 L156.1 175.7 L156.8 175.7 L157.5 175.4 L158.3 175.4 L159.0 175.3 L159.8 175.2 L160.5 175.0 L161.3 175.0 L162.0 174.9 L162.8 174.8 L163.5 174.8 L164.2 174.8 L165.0 174.7 L165.7 174.7 L166.5 174.6 L167.2 174.5 L168.0 174.4 L168.7 174.5 L169.5 174.5 L170.2 174.4 L170.9 174.4 L171.7 174.2 L172.4 174.2 L173.2 174.2 L173.9 174.2 L174.7 174.2 L175.4 174.1 L176.1 174.2 L176.9 174.2 L177.6 174.2 L178.4 174.1 L179.1 174.0 L179.9 174.0 L180.6 174.1 L181.4 174.1 L182.1 174.0" stroke="#111" stroke-width="0.45" fill="none" stroke-linejoin="round" stroke-linecap="round"/>
<path d="M144.9 179.3 L145.6 179.1 L146.4 178.9 L147.1 178.8 L147.9 178.7 L148.6 178.5 L149.4 178.5 L150.1 178.3 L150.9 178.3 L151.6 178.1 L152.3 178.1 L153.1 177.9 L153.8 177.9 L154.6 177.8 L155.3 177.7 L156.1 177.7 L156.8 177.7 L157.5 177.5 L158.3 177.6 L159.0 177.5 L159.8 177.5 L160.5 177.4 L161.3 177.3 L162.0 177.3 L162.8 177.3 L163.5 177.2 L164.2 177.1 L165.0 177.2 L165.7 177.1 L166.5 177.1 L167.2 177.1 L168.0 177.0 L168.7 177.0 L169.5 177.0 L170.2 177.1 L170.9 176.9 L171.7 177.0 L172.4 177.0 L173.2 177.0 L173.9 177.0 L174.7 176.9 L175.4 176.8 L176.1 176.9 L176.9 176.8 L177.6 176.8 L178.4 176.9 L179.1 176.8 L179.9 176.8 L180.6 176.8 L181.4 176.8 L182.1 176.8" stroke="#111" stroke-width="0.45" fill="none" stroke-linejoin="round" stroke-linecap="round"/>
<path d="M144.9 179.5 L145.6 179.4 L146.4 179.4 L147.1 179.4 L147.9 179.2 L148.6 179.3 L149.4 179.2 L150.1 179.1 L150.9 179.1 L151.6 179.1 L152.3 179.0 L153.1 179.1 L153.8 179.1 L154.6 179.0 L155.3 179.0 L156.1 179.0 L156.8 179.0 L157.5 178.9 L158.3 178.9 L159.0 178.9 L159.8 178.9 L160.5 178.8 L161.3 178.8 L162.0 178.8 L162.8 178.8 L163.5 178.8 L164.2 178.8 L165.0 178.7 L165.7 178.7 L166.5 178.7 L167.2 178.7 L168.0 178.7 L168.7 178.7 L169.5 178.7 L170.2 178.7 L170.9 178.7 L171.7 178.7 L172.4 178.7 L173.2 178.6 L173.9 178.6 L174.7 178.6 L175.4 178.6 L176.1 178.7 L176.9 178.6 L177.6 178.7 L178.4 178.6 L179.1 178.6 L179.9 178.6 L180.6 178.6 L181.4 178.6 L182.1 178.6" stroke="#111" stroke-width="0.4" fill="none" stroke-linejoin="round" stroke-linecap="round"/>
<path d="M182.4 162.5 L182.4 162.8 L182.6 163.5 L182.8 164.4 L183.0 165.6 L183.3 166.8 L183.6 168.1 L184.0 169.4 L184.4 170.5 L184.9 171.6 L185.5 172.5 L186.0 173.3 L186.6 173.9 L187.3 174.4 L188.0 174.9 L188.7 175.2 L189.5 175.5 L190.4 175.7 L191.2 175.8 L192.1 176.0 L193.1 176.1 L194.0 176.2 L195.0 176.3 L196.1 176.3 L197.2 176.4 L198.3 176.5 L199.5 176.5 L200.7 176.6 L201.9 176.7 L203.2 176.7 L204.5 176.8 L205.8 176.9 L207.2 176.9 L208.6 177.0 L210.1 177.1 L211.6 177.1 L213.1 177.2 L214.6 177.2 L216.2 177.3 L217.8 177.4 L219.5 177.4" stroke="#111" stroke-width="1.3" fill="none" stroke-linejoin="round"/>
<path d="M182.4 166.1 L182.4 166.3 L182.6 166.8 L182.8 167.6 L183.0 168.5 L183.3 169.4 L183.6 170.4 L184.0 171.4 L184.4 172.3 L184.9 173.1 L185.5 173.8 L186.0 174.4 L186.6 174.9 L187.3 175.3 L188.0 175.6 L188.7 175.9 L189.5 176.1 L190.4 176.3 L191.2 176.4 L192.1 176.5 L193.1 176.6 L194.0 176.7 L195.0 176.8 L196.1 176.8 L197.2 176.9 L198.3 176.9 L199.5 177.0 L200.7 177.0 L201.9 177.1 L203.2 177.2 L204.5 177.2 L205.8 177.3 L207.2 177.3 L208.6 177.4 L210.1 177.4 L211.6 177.5 L213.1 177.5 L214.6 177.6 L216.2 177.7 L217.8 177.7 L219.5 177.8" stroke="#111" stroke-width="1.0" fill="none" stroke-linejoin="round"/>
<path d="M182.4 169.7 L182.4 169.9 L182.6 170.3 L182.8 170.8 L183.0 171.5 L183.3 172.2 L183.6 173.0 L184.0 173.6 L184.4 174.3 L184.9 174.8 L185.5 175.3 L186.0 175.7 L186.6 176.1 L187.3 176.3 L188.0 176.5 L188.7 176.7 L189.5 176.8 L190.4 176.9 L191.2 177.0 L192.1 177.1 L193.1 177.2 L194.0 177.2 L195.0 177.3 L196.1 177.3 L197.2 177.4 L198.3 177.4 L199.5 177.4 L200.7 177.5 L201.9 177.5 L203.2 177.6 L204.5 177.6 L205.8 177.7 L207.2 177.7 L208.6 177.8 L210.1 177.8 L211.6 177.9 L213.1 177.9 L214.6 177.9 L216.2 178.0 L217.8 178.0 L219.5 178.1" stroke="#111" stroke-width="0.8" fill="none" stroke-linejoin="round"/>
<path d="M182.4 173.7 L182.4 173.8 L182.6 174.0 L182.8 174.4 L183.0 174.7 L183.3 175.2 L183.6 175.6 L184.0 176.0 L184.4 176.3 L184.9 176.7 L185.5 177.0 L186.0 177.2 L186.6 177.4 L187.3 177.5 L188.0 177.7 L188.7 177.8 L189.5 177.9 L190.4 177.9 L191.2 178.0 L192.1 178.0 L193.1 178.1 L194.0 178.1 L195.0 178.1 L196.1 178.2 L197.2 178.2 L198.3 178.2 L199.5 178.3 L200.7 178.3 L201.9 178.3 L203.2 178.4 L204.5 178.4 L205.8 178.4 L207.2 178.5 L208.6 178.5 L210.1 178.6 L211.6 178.6 L213.1 178.6 L214.6 178.7 L216.2 178.7 L217.8 178.7 L219.5 178.7" stroke="#111" stroke-width="0.6" fill="none" stroke-linejoin="round"/>
<path d="M182.4 176.7 L182.4 176.7 L182.6 176.9 L182.8 177.0 L183.0 177.2 L183.3 177.4 L183.6 177.6 L184.0 177.8 L184.4 178.0 L184.9 178.2 L185.5 178.3 L186.0 178.5 L186.6 178.6 L187.3 178.6 L188.0 178.7 L188.7 178.8 L189.5 178.8 L190.4 178.8 L191.2 178.9 L192.1 178.9 L193.1 178.9 L194.0 178.9 L195.0 179.0 L196.1 179.0 L197.2 179.0 L198.3 179.0 L199.5 179.0 L200.7 179.1 L201.9 179.1 L203.2 179.1 L204.5 179.1 L205.8 179.1 L207.2 179.2 L208.6 179.2 L210.1 179.2 L211.6 179.2 L213.1 179.2 L214.6 179.3 L216.2 179.3 L217.8 179.3 L219.5 179.3" stroke="#111" stroke-width="0.4" fill="none" stroke-linejoin="round"/>
<path d="M144.6 179.7V157" stroke="#222" stroke-width="0.6" fill="none"/>
<path d="M182.1 141.3V172" stroke="#222" stroke-width="0.7" fill="none"/>
<path d="M313.3 179.3H392" stroke="#111" stroke-width="1.4" fill="none"/>
<path d="M318.6 156.5 L319.4 155.8 L320.1 154.9 L320.9 154.5 L321.7 154.0 L322.4 153.0 L323.2 152.6 L324.0 153.1 L324.7 152.3 L325.5 152.1 L326.3 152.6 L327.0 151.9 L327.8 152.2 L328.6 151.7 L329.3 151.7 L330.1 151.1 L330.9 151.5 L331.6 151.6 L332.4 151.1 L333.2 151.3 L333.9 151.1 L334.7 150.4 L335.5 151.0 L336.2 150.8 L337.0 150.4 L337.8 150.0 L338.5 150.8 L339.3 150.3 L340.0 150.5 L340.8 150.6 L341.6 150.4 L342.3 150.5 L343.1 149.9 L343.9 150.3 L344.6 149.9 L345.4 150.3 L346.2 150.2 L346.9 149.4 L347.7 149.3 L348.5 149.4 L349.2 150.1 L350.0 149.5 L350.8 149.6 L351.5 149.3 L352.3 149.4 L353.1 149.3 L353.8 149.2 L354.6 149.4 L355.4 149.4 L356.1 149.6 L356.9 149.4" stroke="#111" stroke-width="1.3" fill="none" stroke-linejoin="round" stroke-linecap="round"/>
<path d="M318.6 159.9 L319.4 158.8 L320.1 158.2 L320.9 157.2 L321.7 156.2 L322.4 156.5 L323.2 156.3 L324.0 155.9 L324.7 155.3 L325.5 155.3 L326.3 154.6 L327.0 155.0 L327.8 154.6 L328.6 154.2 L329.3 153.9 L330.1 154.5 L330.9 154.6 L331.6 153.6 L332.4 154.2 L333.2 153.7 L333.9 153.3 L334.7 153.4 L335.5 153.8 L336.2 153.8 L337.0 152.9 L337.8 153.4 L338.5 152.8 L339.3 153.4 L340.0 152.9 L340.8 153.4 L341.6 153.4 L342.3 152.9 L343.1 153.3 L343.9 152.6 L344.6 152.3 L345.4 152.8 L346.2 152.1 L346.9 152.2 L347.7 152.4 L348.5 152.6 L349.2 152.1 L350.0 151.9 L350.8 152.7 L351.5 152.1 L352.3 152.7 L353.1 152.6 L353.8 152.0 L354.6 152.1 L355.4 152.1 L356.1 152.2 L356.9 152.1" stroke="#111" stroke-width="1.3" fill="none" stroke-linejoin="round" stroke-linecap="round"/>
<path d="M318.6 158.7 L319.4 158.4 L320.1 158.4 L320.9 157.7 L321.7 157.4 L322.4 157.5 L323.2 156.8 L324.0 156.7 L324.7 157.3 L325.5 156.7 L326.3 156.6 L327.0 156.0 L327.8 156.3 L328.6 156.3 L329.3 155.7 L330.1 156.2 L330.9 156.1 L331.6 155.4 L332.4 155.9 L333.2 155.7 L333.9 155.8 L334.7 155.4 L335.5 155.7 L336.2 155.7 L337.0 154.9 L337.8 154.8 L338.5 155.4 L339.3 155.6 L340.0 154.8 L340.8 155.0 L341.6 155.0 L342.3 154.7 L343.1 154.7 L343.9 154.6 L344.6 154.6 L345.4 154.8 L346.2 154.4 L346.9 154.4 L347.7 154.8 L348.5 154.0 L349.2 154.5 L350.0 154.6 L350.8 154.1 L351.5 154.0 L352.3 154.5 L353.1 153.9 L353.8 153.8 L354.6 154.1 L355.4 154.3 L356.1 153.6 L356.9 153.8" stroke="#111" stroke-width="1.3" fill="none" stroke-linejoin="round" stroke-linecap="round"/>
<path d="M318.6 160.4 L319.4 160.6 L320.1 160.1 L320.9 160.3 L321.7 159.5 L322.4 159.6 L323.2 159.7 L324.0 159.8 L324.7 159.4 L325.5 159.1 L326.3 158.9 L327.0 159.2 L327.8 158.8 L328.6 159.3 L329.3 159.3 L330.1 158.6 L330.9 158.6 L331.6 159.0 L332.4 158.8 L333.2 158.9 L333.9 158.4 L334.7 158.2 L335.5 158.3 L336.2 158.7 L337.0 158.2 L337.8 158.2 L338.5 158.2 L339.3 158.2 L340.0 158.1 L340.8 158.5 L341.6 157.8 L342.3 157.6 L343.1 158.4 L343.9 158.3 L344.6 158.4 L345.4 157.8 L346.2 158.3 L346.9 158.2 L347.7 157.5 L348.5 158.0 L349.2 158.0 L350.0 157.8 L350.8 157.7 L351.5 157.4 L352.3 157.4 L353.1 157.3 L353.8 157.1 L354.6 157.6 L355.4 157.3 L356.1 157.7 L356.9 157.0" stroke="#111" stroke-width="1.2" fill="none" stroke-linejoin="round" stroke-linecap="round"/>
<path d="M318.6 162.1 L319.4 161.9 L320.1 162.0 L320.9 162.0 L321.7 161.9 L322.4 161.6 L323.2 161.1 L324.0 161.7 L324.7 161.2 L325.5 161.3 L326.3 161.5 L327.0 161.4 L327.8 161.2 L328.6 161.6 L329.3 161.3 L330.1 161.1 L330.9 161.0 L331.6 161.5 L332.4 161.1 L333.2 161.3 L333.9 161.0 L334.7 160.8 L335.5 161.1 L336.2 161.3 L337.0 160.8 L337.8 161.2 L338.5 161.3 L339.3 161.2 L340.0 161.2 L340.8 160.5 L341.6 161.0 L342.3 161.2 L343.1 160.5 L343.9 160.7 L344.6 160.7 L345.4 160.9 L346.2 160.8 L346.9 160.8 L347.7 161.0 L348.5 160.4 L349.2 160.4 L350.0 160.5 L350.8 160.5 L351.5 160.4 L352.3 161.1 L353.1 161.0 L353.8 160.4 L354.6 160.7 L355.4 160.6 L356.1 160.6 L356.9 160.6" stroke="#111" stroke-width="1.2" fill="none" stroke-linejoin="round" stroke-linecap="round"/>
<path d="M318.6 163.1 L319.4 163.1 L320.1 163.0 L320.9 162.9 L321.7 163.1 L322.4 162.9 L323.2 163.3 L324.0 163.4 L324.7 163.2 L325.5 163.1 L326.3 163.2 L327.0 163.3 L327.8 163.5 L328.6 163.7 L329.3 163.4 L330.1 163.7 L330.9 163.6 L331.6 163.5 L332.4 163.5 L333.2 163.6 L333.9 163.8 L334.7 163.6 L335.5 163.8 L336.2 163.7 L337.0 163.5 L337.8 163.8 L338.5 163.9 L339.3 163.5 L340.0 163.7 L340.8 163.7 L341.6 164.1 L342.3 164.1 L343.1 163.7 L343.9 164.1 L344.6 164.1 L345.4 163.7 L346.2 163.9 L346.9 163.6 L347.7 164.1 L348.5 164.0 L349.2 164.2 L350.0 164.1 L350.8 164.1 L351.5 164.1 L352.3 164.0 L353.1 163.7 L353.8 164.0 L354.6 163.6 L355.4 163.7 L356.1 164.2 L356.9 163.7" stroke="#111" stroke-width="1.1" fill="none" stroke-linejoin="round" stroke-linecap="round"/>
<path d="M318.6 159.6 L319.4 159.1 L320.1 159.3 L320.9 158.3 L321.7 157.8 L322.4 158.2 L323.2 157.2 L324.0 157.6 L324.7 157.1 L325.5 157.0 L326.3 156.9 L327.0 156.3 L327.8 156.3 L328.6 155.3 L329.3 155.8 L330.1 155.3 L330.9 155.3 L331.6 154.6 L332.4 155.0 L333.2 154.9 L333.9 154.0 L334.7 154.0 L335.5 154.1 L336.2 154.1 L337.0 153.4 L337.8 153.2 L338.5 153.1 L339.3 153.3 L340.0 153.3 L340.8 152.8 L341.6 152.6 L342.3 152.5 L343.1 152.3 L343.9 152.3 L344.6 151.8 L345.4 152.1 L346.2 152.4 L346.9 151.8 L347.7 151.9 L348.5 151.3 L349.2 151.7 L350.0 151.6 L350.8 151.4 L351.5 151.2 L352.3 151.1 L353.1 151.1 L353.8 151.2 L354.6 150.5 L355.4 150.3 L356.1 150.8 L356.9 150.9" stroke="#111" stroke-width="0.8" fill="none" stroke-linejoin="round" stroke-linecap="round"/>
<path d="M318.6 160.5 L319.4 160.3 L320.1 160.4 L320.9 159.8 L321.7 159.7 L322.4 159.5 L323.2 159.7 L324.0 159.3 L324.7 159.1 L325.5 159.4 L326.3 159.5 L327.0 158.8 L327.8 159.0 L328.6 158.6 L329.3 158.9 L330.1 158.5 L330.9 158.1 L331.6 158.0 L332.4 157.7 L333.2 158.0 L333.9 157.8 L334.7 157.5 L335.5 157.6 L336.2 157.5 L337.0 157.8 L337.8 157.1 L338.5 157.8 L339.3 157.3 L340.0 157.3 L340.8 157.1 L341.6 157.3 L342.3 157.3 L343.1 156.9 L343.9 156.8 L344.6 156.9 L345.4 157.0 L346.2 156.5 L346.9 156.8 L347.7 156.9 L348.5 156.4 L349.2 156.1 L350.0 156.0 L350.8 156.4 L351.5 156.3 L352.3 156.5 L353.1 156.4 L353.8 155.8 L354.6 155.7 L355.4 155.7 L356.1 155.6 L356.9 156.0" stroke="#111" stroke-width="0.8" fill="none" stroke-linejoin="round" stroke-linecap="round"/>
<path d="M318.6 162.3 L319.4 162.2 L320.1 161.6 L320.9 162.0 L321.7 161.4 L322.4 161.4 L323.2 161.5 L324.0 160.9 L324.7 160.9 L325.5 161.4 L326.3 160.8 L327.0 160.8 L327.8 160.9 L328.6 160.9 L329.3 160.3 L330.1 160.5 L330.9 160.5 L331.6 160.4 L332.4 160.2 L333.2 160.4 L333.9 160.6 L334.7 160.1 L335.5 160.2 L336.2 159.8 L337.0 159.8 L337.8 160.1 L338.5 159.6 L339.3 160.2 L340.0 160.1 L340.8 159.4 L341.6 160.1 L342.3 159.6 L343.1 159.8 L343.9 159.8 L344.6 159.4 L345.4 159.6 L346.2 159.6 L346.9 159.7 L347.7 159.2 L348.5 159.5 L349.2 159.7 L350.0 159.4 L350.8 159.3 L351.5 158.9 L352.3 159.2 L353.1 159.0 L353.8 159.3 L354.6 159.2 L355.4 159.1 L356.1 158.8 L356.9 159.1" stroke="#111" stroke-width="0.8" fill="none" stroke-linejoin="round" stroke-linecap="round"/>
<path d="M318.6 177.0 L319.4 175.8 L320.1 174.9 L320.9 174.0 L321.7 173.1 L322.4 172.5 L323.2 171.7 L324.0 171.2 L324.7 170.7 L325.5 170.2 L326.3 169.7 L327.0 169.3 L327.8 168.9 L328.6 168.5 L329.3 168.1 L330.1 167.8 L330.9 167.6 L331.6 167.4 L332.4 167.0 L333.2 166.8 L333.9 166.5 L334.7 166.3 L335.5 166.1 L336.2 166.0 L337.0 165.6 L337.8 165.5 L338.5 165.3 L339.3 165.3 L340.0 165.0 L340.8 164.9 L341.6 164.8 L342.3 164.7 L343.1 164.6 L343.9 164.4 L344.6 164.4 L345.4 164.1 L346.2 164.1 L346.9 163.9 L347.7 163.9 L348.5 163.9 L349.2 163.8 L350.0 163.6 L350.8 163.6 L351.5 163.6 L352.3 163.6 L353.1 163.5 L353.8 163.4 L354.6 163.4 L355.4 163.2 L356.1 163.2 L356.9 163.1" stroke="#111" stroke-width="0.7" fill="none" stroke-linejoin="round" stroke-linecap="round"/>
<path d="M318.6 178.0 L319.4 177.4 L320.1 176.8 L320.9 176.3 L321.7 175.9 L322.4 175.3 L323.2 175.0 L324.0 174.5 L324.7 174.1 L325.5 173.6 L326.3 173.3 L327.0 172.9 L327.8 172.6 L328.6 172.4 L329.3 172.0 L330.1 171.6 L330.9 171.5 L331.6 171.1 L332.4 170.9 L333.2 170.7 L333.9 170.3 L334.7 170.3 L335.5 170.0 L336.2 169.8 L337.0 169.6 L337.8 169.4 L338.5 169.2 L339.3 169.1 L340.0 168.9 L340.8 168.8 L341.6 168.7 L342.3 168.5 L343.1 168.4 L343.9 168.4 L344.6 168.3 L345.4 168.0 L346.2 168.1 L346.9 167.9 L347.7 167.7 L348.5 167.7 L349.2 167.6 L350.0 167.5 L350.8 167.5 L351.5 167.5 L352.3 167.3 L353.1 167.4 L353.8 167.3 L354.6 167.1 L355.4 167.2 L356.1 167.1 L356.9 167.1" stroke="#111" stroke-width="0.7" fill="none" stroke-linejoin="round" stroke-linecap="round"/>
<path d="M318.6 179.0 L319.4 178.7 L320.1 178.3 L320.9 178.1 L321.7 177.8 L322.4 177.5 L323.2 177.1 L324.0 176.9 L324.7 176.6 L325.5 176.3 L326.3 176.0 L327.0 175.8 L327.8 175.6 L328.6 175.4 L329.3 175.3 L330.1 175.1 L330.9 174.9 L331.6 174.7 L332.4 174.6 L333.2 174.3 L333.9 174.2 L334.7 174.1 L335.5 173.9 L336.2 173.7 L337.0 173.7 L337.8 173.6 L338.5 173.4 L339.3 173.2 L340.0 173.2 L340.8 173.1 L341.6 172.9 L342.3 172.7 L343.1 172.7 L343.9 172.7 L344.6 172.5 L345.4 172.5 L346.2 172.3 L346.9 172.2 L347.7 172.2 L348.5 172.1 L349.2 172.0 L350.0 171.9 L350.8 171.9 L351.5 171.8 L352.3 171.8 L353.1 171.7 L353.8 171.6 L354.6 171.6 L355.4 171.6 L356.1 171.6 L356.9 171.4" stroke="#111" stroke-width="0.65" fill="none" stroke-linejoin="round" stroke-linecap="round"/>
<path d="M318.6 179.3 L319.4 179.1 L320.1 178.8 L320.9 178.7 L321.7 178.4 L322.4 178.2 L323.2 178.1 L324.0 177.8 L324.7 177.8 L325.5 177.6 L326.3 177.4 L327.0 177.2 L327.8 177.2 L328.6 177.0 L329.3 177.0 L330.1 176.8 L330.9 176.8 L331.6 176.6 L332.4 176.5 L333.2 176.4 L333.9 176.4 L334.7 176.3 L335.5 176.1 L336.2 176.0 L337.0 176.1 L337.8 176.1 L338.5 175.9 L339.3 175.7 L340.0 175.7 L340.8 175.6 L341.6 175.6 L342.3 175.5 L343.1 175.5 L343.9 175.5 L344.6 175.6 L345.4 175.4 L346.2 175.5 L346.9 175.3 L347.7 175.4 L348.5 175.4 L349.2 175.3 L350.0 175.1 L350.8 175.2 L351.5 175.2 L352.3 175.2 L353.1 175.0 L353.8 175.0 L354.6 175.1 L355.4 175.0 L356.1 175.0 L356.9 175.0" stroke="#111" stroke-width="0.6" fill="none" stroke-linejoin="round" stroke-linecap="round"/>
<path d="M318.6 179.4 L319.4 179.3 L320.1 179.2 L320.9 179.1 L321.7 179.0 L322.4 178.9 L323.2 178.8 L324.0 178.8 L324.7 178.7 L325.5 178.6 L326.3 178.5 L327.0 178.5 L327.8 178.4 L328.6 178.4 L329.3 178.3 L330.1 178.3 L330.9 178.2 L331.6 178.2 L332.4 178.1 L333.2 178.1 L333.9 178.0 L334.7 178.1 L335.5 178.0 L336.2 178.0 L337.0 178.0 L337.8 177.9 L338.5 177.9 L339.3 177.9 L340.0 177.9 L340.8 177.9 L341.6 177.9 L342.3 177.8 L343.1 177.8 L343.9 177.8 L344.6 177.8 L345.4 177.7 L346.2 177.7 L346.9 177.7 L347.7 177.7 L348.5 177.7 L349.2 177.6 L350.0 177.7 L350.8 177.6 L351.5 177.6 L352.3 177.7 L353.1 177.6 L353.8 177.6 L354.6 177.6 L355.4 177.6 L356.1 177.6 L356.9 177.6" stroke="#111" stroke-width="0.4" fill="none" stroke-linejoin="round" stroke-linecap="round"/>
<path d="M357.2 170.3 L357.2 170.6 L357.4 171.3 L357.5 172.2 L357.8 173.3 L358.0 174.3 L358.3 175.3 L358.7 176.1 L359.1 176.8 L359.6 177.4 L360.1 177.8 L360.6 178.1 L361.2 178.3 L361.8 178.4 L362.5 178.6 L363.2 178.6 L363.9 178.7 L364.7 178.7 L365.5 178.8 L366.3 178.8 L367.2 178.9 L368.1 178.9 L369.1 178.9 L370.1 179.0 L371.1 179.0 L372.1 179.0 L373.2 179.0 L374.4 179.1 L375.5 179.1 L376.7 179.1 L377.9 179.1 L379.2 179.1 L380.5 179.2 L381.8 179.2 L383.2 179.2 L384.6 179.2 L386.0 179.2 L387.4 179.2 L388.9 179.2 L390.4 179.2 L392.0 179.2" stroke="#111" stroke-width="0.8" fill="none" stroke-linejoin="round"/>
<path d="M357.2 172.6 L357.2 172.8 L357.4 173.4 L357.5 174.1 L357.8 174.8 L358.0 175.6 L358.3 176.4 L358.7 177.0 L359.1 177.5 L359.6 177.9 L360.1 178.2 L360.6 178.4 L361.2 178.6 L361.8 178.7 L362.5 178.8 L363.2 178.8 L363.9 178.9 L364.7 178.9 L365.5 178.9 L366.3 179.0 L367.2 179.0 L368.1 179.0 L369.1 179.0 L370.1 179.1 L371.1 179.1 L372.1 179.1 L373.2 179.1 L374.4 179.1 L375.5 179.1 L376.7 179.2 L377.9 179.2 L379.2 179.2 L380.5 179.2 L381.8 179.2 L383.2 179.2 L384.6 179.2 L386.0 179.2 L387.4 179.2 L388.9 179.3 L390.4 179.3 L392.0 179.3" stroke="#111" stroke-width="0.6" fill="none" stroke-linejoin="round"/>
<path d="M357.2 175.9 L357.2 176.0 L357.4 176.3 L357.5 176.6 L357.8 177.0 L358.0 177.4 L358.3 177.8 L358.7 178.1 L359.1 178.4 L359.6 178.6 L360.1 178.7 L360.6 178.8 L361.2 178.9 L361.8 179.0 L362.5 179.0 L363.2 179.0 L363.9 179.1 L364.7 179.1 L365.5 179.1 L366.3 179.1 L367.2 179.1 L368.1 179.1 L369.1 179.2 L370.1 179.2 L371.1 179.2 L372.1 179.2 L373.2 179.2 L374.4 179.2 L375.5 179.2 L376.7 179.2 L377.9 179.2 L379.2 179.2 L380.5 179.2 L381.8 179.2 L383.2 179.3 L384.6 179.3 L386.0 179.3 L387.4 179.3 L388.9 179.3 L390.4 179.3 L392.0 179.3" stroke="#111" stroke-width="0.5" fill="none" stroke-linejoin="round"/>
<path d="M318.3 179.3V155" stroke="#222" stroke-width="0.6" fill="none"/>
<path d="M356.9 144.7V176" stroke="#222" stroke-width="0.7" fill="none"/>
<path d="M412.5 179.4H492.3" stroke="#111" stroke-width="1.4" fill="none"/>
<path d="M418.3 157.3 L419.0 155.7 L419.8 154.8 L420.5 153.6 L421.3 152.6 L422.0 152.2 L422.8 152.0 L423.5 151.4 L424.3 150.9 L425.0 150.0 L425.7 149.9 L426.5 149.4 L427.2 149.0 L428.0 148.7 L428.7 148.6 L429.5 149.0 L430.2 148.7 L430.9 148.5 L431.7 148.4 L432.4 147.7 L433.2 147.7 L433.9 147.8 L434.7 147.8 L435.4 147.8 L436.2 147.7 L436.9 146.9 L437.6 147.3 L438.4 147.3 L439.1 147.0 L439.9 146.7 L440.6 146.9 L441.4 146.5 L442.1 147.2 L442.9 147.0 L443.6 146.7 L444.3 146.4 L445.1 146.9 L445.8 146.5 L446.6 146.8 L447.3 146.7 L448.1 146.4 L448.8 146.2 L449.5 146.4 L450.3 146.2 L451.0 145.9 L451.8 146.0 L452.5 146.4 L453.3 145.7 L454.0 145.6 L454.8 146.1 L455.5 145.8" stroke="#111" stroke-width="1.3" fill="none" stroke-linejoin="round" stroke-linecap="round"/>
<path d="M418.3 158.5 L419.0 157.8 L419.8 157.2 L420.5 157.2 L421.3 156.1 L422.0 155.8 L422.8 155.3 L423.5 155.3 L424.3 154.6 L425.0 154.4 L425.7 154.4 L426.5 153.8 L427.2 153.8 L428.0 153.8 L428.7 152.9 L429.5 152.7 L430.2 152.6 L430.9 152.8 L431.7 152.5 L432.4 152.0 L433.2 151.9 L433.9 151.6 L434.7 151.6 L435.4 151.1 L436.2 151.5 L436.9 151.5 L437.6 151.4 L438.4 151.0 L439.1 151.1 L439.9 150.2 L440.6 150.2 L441.4 150.6 L442.1 150.4 L442.9 149.9 L443.6 150.2 L444.3 149.8 L445.1 149.9 L445.8 149.3 L446.6 149.1 L447.3 149.2 L448.1 148.9 L448.8 149.0 L449.5 149.3 L450.3 148.7 L451.0 148.4 L451.8 148.3 L452.5 148.3 L453.3 148.7 L454.0 148.3 L454.8 148.1 L455.5 147.9" stroke="#111" stroke-width="0.8" fill="none" stroke-linejoin="round" stroke-linecap="round"/>
<path d="M418.3 159.4 L419.0 158.5 L419.8 158.0 L420.5 157.6 L421.3 157.3 L422.0 157.1 L422.8 157.3 L423.5 156.6 L424.3 156.3 L425.0 156.4 L425.7 156.0 L426.5 156.5 L427.2 155.6 L428.0 155.7 L428.7 155.7 L429.5 155.3 L430.2 155.6 L430.9 155.0 L431.7 154.7 L432.4 154.7 L433.2 154.3 L433.9 154.4 L434.7 154.2 L435.4 154.6 L436.2 154.4 L436.9 154.0 L437.6 153.5 L438.4 153.6 L439.1 153.5 L439.9 153.3 L440.6 153.2 L441.4 153.6 L442.1 153.0 L442.9 152.8 L443.6 153.4 L444.3 153.0 L445.1 153.3 L445.8 152.7 L446.6 153.0 L447.3 152.7 L448.1 152.8 L448.8 152.6 L449.5 152.4 L450.3 152.0 L451.0 152.0 L451.8 152.4 L452.5 152.4 L453.3 152.3 L454.0 151.8 L454.8 152.0 L455.5 152.0" stroke="#111" stroke-width="0.8" fill="none" stroke-linejoin="round" stroke-linecap="round"/>
<path d="M418.3 161.1 L419.0 161.0 L419.8 160.6 L420.5 160.5 L421.3 160.3 L422.0 159.7 L422.8 160.1 L423.5 159.9 L424.3 159.0 L425.0 159.5 L425.7 159.4 L426.5 159.0 L427.2 158.3 L428.0 158.8 L428.7 158.1 L429.5 158.6 L430.2 158.2 L430.9 157.6 L431.7 157.5 L432.4 157.8 L433.2 157.6 L433.9 157.6 L434.7 157.6 L435.4 156.9 L436.2 156.6 L436.9 157.3 L437.6 156.4 L438.4 157.0 L439.1 156.3 L439.9 156.8 L440.6 156.6 L441.4 156.6 L442.1 156.3 L442.9 156.4 L443.6 155.8 L444.3 156.1 L445.1 155.8 L445.8 156.1 L446.6 156.0 L447.3 155.7 L448.1 155.6 L448.8 155.2 L449.5 155.1 L450.3 155.5 L451.0 155.3 L451.8 155.6 L452.5 155.3 L453.3 154.9 L454.0 155.0 L454.8 155.3 L455.5 155.0" stroke="#111" stroke-width="0.8" fill="none" stroke-linejoin="round" stroke-linecap="round"/>
<path d="M418.3 157.1 L419.0 157.9 L419.8 158.0 L420.5 157.6 L421.3 158.0 L422.0 158.0 L422.8 158.5 L423.5 158.2 L424.3 158.2 L425.0 158.6 L425.7 159.0 L426.5 158.4 L427.2 158.6 L428.0 159.1 L428.7 159.4 L429.5 159.1 L430.2 159.2 L430.9 159.6 L431.7 159.6 L432.4 159.1 L433.2 159.8 L433.9 159.4 L434.7 159.5 L435.4 160.0 L436.2 159.8 L436.9 160.1 L437.6 159.7 L438.4 160.3 L439.1 159.8 L439.9 159.8 L440.6 160.2 L441.4 160.1 L442.1 160.3 L442.9 160.7 L443.6 160.5 L444.3 160.0 L445.1 160.3 L445.8 160.6 L446.6 160.6 L447.3 160.8 L448.1 160.6 L448.8 160.3 L449.5 160.5 L450.3 161.0 L451.0 160.7 L451.8 161.1 L452.5 161.3 L453.3 161.0 L454.0 161.1 L454.8 161.1 L455.5 160.9" stroke="#111" stroke-width="0.7" fill="none" stroke-linejoin="round" stroke-linecap="round"/>
<path d="M418.3 155.8 L419.0 154.6 L419.8 154.3 L420.5 153.2 L421.3 153.2 L422.0 152.7 L422.8 152.3 L423.5 151.8 L424.3 151.3 L425.0 151.7 L425.7 151.2 L426.5 151.3 L427.2 150.7 L428.0 150.5 L428.7 150.5 L429.5 151.0 L430.2 150.4 L430.9 151.0 L431.7 150.4 L432.4 150.6 L433.2 150.3 L433.9 150.5 L434.7 150.0 L435.4 150.2 L436.2 150.7 L436.9 150.0 L437.6 150.4 L438.4 150.1 L439.1 150.0 L439.9 149.8 L440.6 149.7 L441.4 150.6 L442.1 150.4 L442.9 150.4 L443.6 150.4 L444.3 150.5 L445.1 149.8 L445.8 150.2 L446.6 150.1 L447.3 150.1 L448.1 150.5 L448.8 150.3 L449.5 150.5 L450.3 149.7 L451.0 150.2 L451.8 150.2 L452.5 150.2 L453.3 150.1 L454.0 150.3 L454.8 149.8 L455.5 150.4" stroke="#111" stroke-width="1.2" fill="none" stroke-linejoin="round" stroke-linecap="round"/>
<path d="M418.3 156.7 L419.0 156.3 L419.8 156.1 L420.5 155.6 L421.3 154.9 L422.0 154.6 L422.8 154.4 L423.5 154.5 L424.3 154.7 L425.0 154.5 L425.7 153.9 L426.5 153.8 L427.2 154.1 L428.0 153.6 L428.7 153.7 L429.5 153.3 L430.2 153.4 L430.9 153.7 L431.7 153.8 L432.4 153.7 L433.2 153.4 L433.9 153.9 L434.7 153.6 L435.4 153.2 L436.2 153.1 L436.9 153.9 L437.6 153.9 L438.4 153.9 L439.1 153.6 L439.9 153.3 L440.6 153.1 L441.4 153.2 L442.1 153.2 L442.9 153.8 L443.6 153.8 L444.3 153.7 L445.1 153.1 L445.8 153.2 L446.6 153.2 L447.3 153.8 L448.1 153.1 L448.8 153.7 L449.5 153.6 L450.3 153.5 L451.0 153.8 L451.8 153.2 L452.5 153.4 L453.3 153.1 L454.0 153.0 L454.8 153.0 L455.5 153.2" stroke="#111" stroke-width="1.1" fill="none" stroke-linejoin="round" stroke-linecap="round"/>
<path d="M418.3 158.5 L419.0 158.3 L419.8 159.1 L420.5 158.3 L421.3 158.8 L422.0 158.5 L422.8 158.5 L423.5 158.3 L424.3 158.5 L425.0 158.4 L425.7 158.2 L426.5 158.0 L427.2 158.0 L428.0 158.0 L428.7 157.8 L429.5 157.7 L430.2 157.3 L430.9 157.9 L431.7 157.5 L432.4 157.1 L433.2 157.2 L433.9 157.8 L434.7 157.2 L435.4 157.2 L436.2 157.5 L436.9 157.6 L437.6 157.1 L438.4 157.1 L439.1 157.1 L439.9 156.7 L440.6 157.4 L441.4 156.6 L442.1 157.5 L442.9 156.7 L443.6 156.7 L444.3 157.3 L445.1 157.2 L445.8 156.7 L446.6 157.0 L447.3 156.9 L448.1 157.1 L448.8 156.6 L449.5 157.1 L450.3 157.3 L451.0 157.0 L451.8 157.2 L452.5 157.2 L453.3 156.6 L454.0 157.0 L454.8 157.0 L455.5 156.8" stroke="#111" stroke-width="1.1" fill="none" stroke-linejoin="round" stroke-linecap="round"/>
<path d="M418.3 159.7 L419.0 160.1 L419.8 160.3 L420.5 159.8 L421.3 160.1 L422.0 160.3 L422.8 160.1 L423.5 159.6 L424.3 160.1 L425.0 159.8 L425.7 160.3 L426.5 160.1 L427.2 159.8 L428.0 160.3 L428.7 160.1 L429.5 159.9 L430.2 160.3 L430.9 160.3 L431.7 160.3 L432.4 160.3 L433.2 160.1 L433.9 160.2 L434.7 160.1 L435.4 160.0 L436.2 160.4 L436.9 159.9 L437.6 159.7 L438.4 160.2 L439.1 160.0 L439.9 160.0 L440.6 160.1 L441.4 159.8 L442.1 159.8 L442.9 159.7 L443.6 160.2 L444.3 160.3 L445.1 160.2 L445.8 159.7 L446.6 160.4 L447.3 160.3 L448.1 160.0 L448.8 159.6 L449.5 160.3 L450.3 160.1 L451.0 160.1 L451.8 159.6 L452.5 160.2 L453.3 159.6 L454.0 160.0 L454.8 159.7 L455.5 159.9" stroke="#111" stroke-width="1.1" fill="none" stroke-linejoin="round" stroke-linecap="round"/>
<path d="M418.3 163.7 L419.0 163.6 L419.8 163.6 L420.5 163.2 L421.3 163.2 L422.0 163.4 L422.8 162.9 L423.5 163.2 L424.3 163.6 L425.0 163.4 L425.7 163.5 L426.5 163.0 L427.2 163.3 L428.0 163.3 L428.7 163.3 L429.5 163.0 L430.2 162.8 L430.9 162.7 L431.7 163.4 L432.4 163.4 L433.2 162.8 L433.9 163.2 L434.7 162.9 L435.4 163.1 L436.2 163.2 L436.9 162.8 L437.6 163.0 L438.4 162.7 L439.1 162.9 L439.9 162.5 L440.6 162.7 L441.4 162.7 L442.1 163.2 L442.9 162.6 L443.6 163.1 L444.3 162.5 L445.1 163.3 L445.8 162.6 L446.6 162.5 L447.3 162.6 L448.1 163.2 L448.8 163.0 L449.5 163.1 L450.3 162.8 L451.0 162.5 L451.8 162.7 L452.5 162.8 L453.3 163.2 L454.0 162.5 L454.8 162.6 L455.5 163.1" stroke="#111" stroke-width="1.0" fill="none" stroke-linejoin="round" stroke-linecap="round"/>
<path d="M418.3 161.2 L419.0 162.3 L419.8 162.0 L420.5 162.6 L421.3 162.9 L422.0 163.3 L422.8 162.9 L423.5 163.7 L424.3 163.3 L425.0 163.9 L425.7 163.4 L426.5 164.1 L427.2 163.8 L428.0 163.9 L428.7 163.8 L429.5 164.1 L430.2 164.2 L430.9 164.8 L431.7 164.5 L432.4 164.4 L433.2 164.9 L433.9 164.3 L434.7 164.3 L435.4 165.0 L436.2 165.0 L436.9 164.8 L437.6 165.0 L438.4 164.3 L439.1 165.0 L439.9 164.9 L440.6 164.9 L441.4 165.0 L442.1 164.4 L442.9 164.5 L443.6 164.5 L444.3 164.7 L445.1 164.8 L445.8 164.8 L446.6 164.7 L447.3 165.0 L448.1 165.1 L448.8 165.0 L449.5 164.4 L450.3 164.5 L451.0 164.6 L451.8 164.6 L452.5 164.9 L453.3 164.6 L454.0 164.9 L454.8 164.7 L455.5 164.7" stroke="#111" stroke-width="1.0" fill="none" stroke-linejoin="round" stroke-linecap="round"/>
<path d="M418.3 179.0 L419.0 177.4 L419.8 175.8 L420.5 174.5 L421.3 173.4 L422.0 172.2 L422.8 171.2 L423.5 170.3 L424.3 169.6 L425.0 168.8 L425.7 168.2 L426.5 167.5 L427.2 166.8 L428.0 166.3 L428.7 165.9 L429.5 165.4 L430.2 164.9 L430.9 164.6 L431.7 164.3 L432.4 163.9 L433.2 163.6 L433.9 163.3 L434.7 163.0 L435.4 162.9 L436.2 162.6 L436.9 162.4 L437.6 162.1 L438.4 162.0 L439.1 161.8 L439.9 161.8 L440.6 161.5 L441.4 161.5 L442.1 161.3 L442.9 161.1 L443.6 161.1 L444.3 160.9 L445.1 160.9 L445.8 160.8 L446.6 160.6 L447.3 160.6 L448.1 160.6 L448.8 160.4 L449.5 160.3 L450.3 160.3 L451.0 160.2 L451.8 160.2 L452.5 160.1 L453.3 160.1 L454.0 160.0 L454.8 160.0 L455.5 160.0" stroke="#111" stroke-width="0.7" fill="none" stroke-linejoin="round" stroke-linecap="round"/>
<path d="M418.3 179.0 L419.0 178.2 L419.8 177.4 L420.5 176.6 L421.3 175.9 L422.0 175.3 L422.8 174.7 L423.5 174.2 L424.3 173.8 L425.0 173.2 L425.7 172.8 L426.5 172.3 L427.2 172.1 L428.0 171.7 L428.7 171.5 L429.5 171.0 L430.2 170.8 L430.9 170.5 L431.7 170.2 L432.4 170.1 L433.2 169.9 L433.9 169.5 L434.7 169.5 L435.4 169.2 L436.2 169.0 L436.9 168.9 L437.6 168.6 L438.4 168.5 L439.1 168.4 L439.9 168.4 L440.6 168.1 L441.4 168.0 L442.1 167.9 L442.9 167.9 L443.6 167.8 L444.3 167.7 L445.1 167.5 L445.8 167.5 L446.6 167.3 L447.3 167.4 L448.1 167.4 L448.8 167.3 L449.5 167.1 L450.3 167.1 L451.0 167.0 L451.8 167.0 L452.5 167.0 L453.3 166.9 L454.0 166.9 L454.8 166.9 L455.5 166.9" stroke="#111" stroke-width="0.7" fill="none" stroke-linejoin="round" stroke-linecap="round"/>
<path d="M418.3 178.9 L419.0 178.7 L419.8 178.3 L420.5 178.0 L421.3 177.4 L422.0 177.1 L422.8 176.8 L423.5 176.6 L424.3 176.3 L425.0 176.0 L425.7 175.8 L426.5 175.6 L427.2 175.3 L428.0 175.1 L428.7 174.9 L429.5 174.7 L430.2 174.4 L430.9 174.3 L431.7 174.1 L432.4 173.9 L433.2 173.9 L433.9 173.7 L434.7 173.5 L435.4 173.4 L436.2 173.3 L436.9 173.1 L437.6 173.1 L438.4 172.9 L439.1 172.9 L439.9 172.7 L440.6 172.7 L441.4 172.6 L442.1 172.5 L442.9 172.4 L443.6 172.3 L444.3 172.3 L445.1 172.2 L445.8 172.1 L446.6 172.0 L447.3 172.0 L448.1 171.9 L448.8 171.9 L449.5 171.9 L450.3 171.8 L451.0 171.8 L451.8 171.7 L452.5 171.6 L453.3 171.7 L454.0 171.6 L454.8 171.6 L455.5 171.6" stroke="#111" stroke-width="0.6" fill="none" stroke-linejoin="round" stroke-linecap="round"/>
<path d="M418.3 179.2 L419.0 178.9 L419.8 178.7 L420.5 178.5 L421.3 178.3 L422.0 178.1 L422.8 177.9 L423.5 177.8 L424.3 177.6 L425.0 177.5 L425.7 177.4 L426.5 177.2 L427.2 177.2 L428.0 177.0 L428.7 176.8 L429.5 176.8 L430.2 176.6 L430.9 176.5 L431.7 176.6 L432.4 176.3 L433.2 176.2 L433.9 176.3 L434.7 176.1 L435.4 176.2 L436.2 176.1 L436.9 176.0 L437.6 175.9 L438.4 176.0 L439.1 175.8 L439.9 175.8 L440.6 175.8 L441.4 175.8 L442.1 175.7 L442.9 175.6 L443.6 175.7 L444.3 175.5 L445.1 175.5 L445.8 175.4 L446.6 175.6 L447.3 175.5 L448.1 175.5 L448.8 175.5 L449.5 175.5 L450.3 175.4 L451.0 175.4 L451.8 175.4 L452.5 175.3 L453.3 175.3 L454.0 175.4 L454.8 175.3 L455.5 175.3" stroke="#111" stroke-width="0.6" fill="none" stroke-linejoin="round" stroke-linecap="round"/>
<path d="M418.3 179.4 L419.0 179.1 L419.8 179.0 L420.5 178.8 L421.3 178.6 L422.0 178.5 L422.8 178.4 L423.5 178.2 L424.3 178.1 L425.0 178.0 L425.7 178.0 L426.5 177.9 L427.2 177.8 L428.0 177.8 L428.7 177.6 L429.5 177.6 L430.2 177.6 L430.9 177.4 L431.7 177.4 L432.4 177.2 L433.2 177.3 L433.9 177.3 L434.7 177.2 L435.4 177.2 L436.2 177.1 L436.9 177.0 L437.6 177.0 L438.4 177.0 L439.1 176.9 L439.9 176.9 L440.6 176.9 L441.4 176.8 L442.1 176.8 L442.9 176.7 L443.6 176.8 L444.3 176.7 L445.1 176.7 L445.8 176.6 L446.6 176.6 L447.3 176.6 L448.1 176.7 L448.8 176.6 L449.5 176.6 L450.3 176.6 L451.0 176.6 L451.8 176.5 L452.5 176.6 L453.3 176.4 L454.0 176.6 L454.8 176.6 L455.5 176.5" stroke="#111" stroke-width="0.6" fill="none" stroke-linejoin="round" stroke-linecap="round"/>
<path d="M418.3 179.4 L419.0 179.2 L419.8 179.1 L420.5 179.1 L421.3 178.9 L422.0 179.0 L422.8 178.8 L423.5 178.8 L424.3 178.8 L425.0 178.7 L425.7 178.6 L426.5 178.6 L427.2 178.5 L428.0 178.4 L428.7 178.3 L429.5 178.3 L430.2 178.3 L430.9 178.2 L431.7 178.2 L432.4 178.2 L433.2 178.1 L433.9 178.0 L434.7 178.0 L435.4 177.9 L436.2 178.0 L436.9 177.9 L437.6 177.8 L438.4 178.0 L439.1 177.9 L439.9 177.8 L440.6 177.7 L441.4 177.9 L442.1 177.8 L442.9 177.7 L443.6 177.8 L444.3 177.8 L445.1 177.7 L445.8 177.7 L446.6 177.6 L447.3 177.6 L448.1 177.7 L448.8 177.7 L449.5 177.7 L450.3 177.6 L451.0 177.7 L451.8 177.5 L452.5 177.6 L453.3 177.6 L454.0 177.5 L454.8 177.5 L455.5 177.7" stroke="#111" stroke-width="0.6" fill="none" stroke-linejoin="round" stroke-linecap="round"/>
<path d="M455.8 170.4 L455.8 170.7 L456.0 171.5 L456.1 172.4 L456.4 173.5 L456.7 174.6 L457.0 175.6 L457.4 176.4 L457.8 177.1 L458.3 177.6 L458.8 178.0 L459.4 178.3 L460.0 178.5 L460.6 178.6 L461.3 178.7 L462.0 178.8 L462.8 178.9 L463.6 178.9 L464.5 179.0 L465.4 179.0 L466.3 179.0 L467.2 179.1 L468.2 179.1 L469.3 179.1 L470.4 179.2 L471.5 179.2 L472.6 179.2 L473.8 179.2 L475.0 179.3 L476.3 179.3 L477.5 179.3 L478.9 179.3 L480.2 179.3 L481.6 179.3 L483.0 179.3 L484.5 179.3 L486.0 179.4 L487.5 179.4 L489.1 179.4 L490.7 179.4 L492.3 179.4" stroke="#111" stroke-width="0.8" fill="none" stroke-linejoin="round"/>
<path d="M455.8 172.7 L455.8 172.9 L456.0 173.5 L456.1 174.2 L456.4 175.0 L456.7 175.8 L457.0 176.6 L457.4 177.2 L457.8 177.7 L458.3 178.1 L458.8 178.4 L459.4 178.6 L460.0 178.8 L460.6 178.9 L461.3 178.9 L462.0 179.0 L462.8 179.0 L463.6 179.1 L464.5 179.1 L465.4 179.1 L466.3 179.2 L467.2 179.2 L468.2 179.2 L469.3 179.2 L470.4 179.2 L471.5 179.3 L472.6 179.3 L473.8 179.3 L475.0 179.3 L476.3 179.3 L477.5 179.3 L478.9 179.3 L480.2 179.3 L481.6 179.3 L483.0 179.4 L484.5 179.4 L486.0 179.4 L487.5 179.4 L489.1 179.4 L490.7 179.4 L492.3 179.4" stroke="#111" stroke-width="0.6" fill="none" stroke-linejoin="round"/>
<path d="M455.8 176.0 L455.8 176.1 L456.0 176.4 L456.1 176.8 L456.4 177.2 L456.7 177.6 L457.0 177.9 L457.4 178.3 L457.8 178.5 L458.3 178.7 L458.8 178.9 L459.4 179.0 L460.0 179.0 L460.6 179.1 L461.3 179.1 L462.0 179.2 L462.8 179.2 L463.6 179.2 L464.5 179.2 L465.4 179.2 L466.3 179.3 L467.2 179.3 L468.2 179.3 L469.3 179.3 L470.4 179.3 L471.5 179.3 L472.6 179.3 L473.8 179.3 L475.0 179.3 L476.3 179.3 L477.5 179.4 L478.9 179.4 L480.2 179.4 L481.6 179.4 L483.0 179.4 L484.5 179.4 L486.0 179.4 L487.5 179.4 L489.1 179.4 L490.7 179.4 L492.3 179.4" stroke="#111" stroke-width="0.5" fill="none" stroke-linejoin="round"/>
<path d="M418 179.4V153" stroke="#222" stroke-width="0.6" fill="none"/>
<path d="M455.5 145V176" stroke="#222" stroke-width="0.7" fill="none"/>
<text x="64.0" y="135.6" font-size="6.9" text-anchor="middle" font-weight="normal" fill="#1a1a1a" stroke="#1a1a1a" stroke-width="0.22" >Y652A</text>
<text x="167.2" y="135.9" font-size="7.0" text-anchor="middle" font-weight="normal" fill="#1a1a1a" stroke="#1a1a1a" stroke-width="0.22" >Y652A+HCQ</text>
<text x="338.0" y="136.1" font-size="6.9" text-anchor="middle" font-weight="normal" fill="#1a1a1a" stroke="#1a1a1a" stroke-width="0.22" >F656A</text>
<text x="440.6" y="136.1" font-size="6.9" text-anchor="middle" font-weight="normal" fill="#1a1a1a" stroke="#1a1a1a" stroke-width="0.22" >F656A+HCQ</text>
<path d="M36.1 170.2V183.3H52.7" stroke="#111" stroke-width="1.1" fill="none"/>
<text transform="translate(31.2,177.1) rotate(-90)" font-size="6.3" text-anchor="middle" fill="#1a1a1a" stroke="#1a1a1a" stroke-width="0.22">300 pA</text>
<text x="43.9" y="191.6" font-size="6.0" text-anchor="middle" font-weight="normal" fill="#1a1a1a" stroke="#1a1a1a" stroke-width="0.22" >2 s</text>
<path d="M309.3 172.8V183.8H326" stroke="#111" stroke-width="1.1" fill="none"/>
<text transform="translate(303.8,179.2) rotate(-90)" font-size="6.3" text-anchor="middle" fill="#1a1a1a" stroke="#1a1a1a" stroke-width="0.22">200 pA</text>
<text x="317.2" y="191.3" font-size="6.0" text-anchor="middle" font-weight="normal" fill="#1a1a1a" stroke="#1a1a1a" stroke-width="0.22" >2 s</text>
<path d="M19.5 212.7V285.3H117.6" stroke="#111" stroke-width="0.9" fill="none"/>
<line x1="17.3" y1="280.8" x2="19.5" y2="280.8" stroke="#111" stroke-width="0.8"/>
<text x="15.4" y="283.5" font-size="6.6" text-anchor="end" font-weight="normal" fill="#1a1a1a" stroke="#1a1a1a" stroke-width="0.22" >0</text>
<line x1="17.3" y1="252.0" x2="19.5" y2="252.0" stroke="#111" stroke-width="0.8"/>
<text x="15.4" y="254.7" font-size="6.6" text-anchor="end" font-weight="normal" fill="#1a1a1a" stroke="#1a1a1a" stroke-width="0.22" >30</text>
<line x1="17.3" y1="223.2" x2="19.5" y2="223.2" stroke="#111" stroke-width="0.8"/>
<text x="15.4" y="225.9" font-size="6.6" text-anchor="end" font-weight="normal" fill="#1a1a1a" stroke="#1a1a1a" stroke-width="0.22" >60</text>
<line x1="29.1" y1="285.3" x2="29.1" y2="287.5" stroke="#111" stroke-width="0.8"/>
<text x="29.1" y="295.0" font-size="6.4" text-anchor="middle" font-weight="normal" fill="#1a1a1a" stroke="#1a1a1a" stroke-width="0.22" >-60</text>
<line x1="48.5" y1="285.3" x2="48.5" y2="287.5" stroke="#111" stroke-width="0.8"/>
<text x="48.5" y="295.0" font-size="6.4" text-anchor="middle" font-weight="normal" fill="#1a1a1a" stroke="#1a1a1a" stroke-width="0.22" >-30</text>
<line x1="67.9" y1="285.3" x2="67.9" y2="287.5" stroke="#111" stroke-width="0.8"/>
<text x="67.9" y="295.0" font-size="6.4" text-anchor="middle" font-weight="normal" fill="#1a1a1a" stroke="#1a1a1a" stroke-width="0.22" >0</text>
<line x1="87.3" y1="285.3" x2="87.3" y2="287.5" stroke="#111" stroke-width="0.8"/>
<text x="87.3" y="295.0" font-size="6.4" text-anchor="middle" font-weight="normal" fill="#1a1a1a" stroke="#1a1a1a" stroke-width="0.22" >30</text>
<line x1="106.7" y1="285.3" x2="106.7" y2="287.5" stroke="#111" stroke-width="0.8"/>
<text x="106.7" y="295.0" font-size="6.4" text-anchor="middle" font-weight="normal" fill="#1a1a1a" stroke="#1a1a1a" stroke-width="0.22" >60</text>
<text x="67.7" y="301.9" font-size="6.6" text-anchor="middle" font-weight="normal" fill="#1a1a1a" stroke="#1a1a1a" stroke-width="0.22" >Voltage (mV)</text>
<text transform="translate(5.0,212.0) rotate(-90) scale(1,0.96)" font-size="6.6" text-anchor="end" fill="#222" stroke="#222" stroke-width="0.2"><tspan font-style="italic">I</tspan><tspan font-size="4.9" dy="2.2" fill="#707070" stroke="none">hERG-pulse</tspan><tspan dy="-2.2"> density (pA/pF)</tspan></text>
<path d="M48.5 272.2V275.0M47.5 272.2h2M47.5 275.0h2" stroke="#111" stroke-width="0.8" fill="none"/>
<path d="M55.0 260.6V266.4M54.0 260.6h2M54.0 266.4h2" stroke="#111" stroke-width="0.8" fill="none"/>
<path d="M61.4 242.4V252.0M60.4 242.4h2M60.4 252.0h2" stroke="#111" stroke-width="0.8" fill="none"/>
<path d="M67.9 229.9V243.4M66.9 229.9h2M66.9 243.4h2" stroke="#111" stroke-width="0.8" fill="none"/>
<path d="M74.4 229.0V242.4M73.4 229.0h2M73.4 242.4h2" stroke="#111" stroke-width="0.8" fill="none"/>
<path d="M80.8 233.0V244.5M79.8 233.0h2M79.8 244.5h2" stroke="#111" stroke-width="0.8" fill="none"/>
<path d="M87.3 235.4V246.9M86.3 235.4h2M86.3 246.9h2" stroke="#111" stroke-width="0.8" fill="none"/>
<path d="M93.8 237.3V246.9M92.8 237.3h2M92.8 246.9h2" stroke="#111" stroke-width="0.8" fill="none"/>
<path d="M100.2 237.3V246.9M99.2 237.3h2M99.2 246.9h2" stroke="#111" stroke-width="0.8" fill="none"/>
<path d="M106.7 236.8V246.4M105.7 236.8h2M105.7 246.4h2" stroke="#111" stroke-width="0.8" fill="none"/>
<path d="M113.2 234.7V244.3M112.2 234.7h2M112.2 244.3h2" stroke="#111" stroke-width="0.8" fill="none"/>
<polyline points="22.6,278.4 29.1,278.4 35.6,277.9 42.0,277.4 48.5,273.6 55.0,263.5 61.4,247.2 67.9,236.6 74.4,235.7 80.8,238.8 87.3,241.2 93.8,242.1 100.2,242.1 106.7,241.6 113.2,239.5" fill="none" stroke="#111" stroke-width="1.15" stroke-linejoin="round"/>
<rect x="21.6" y="277.4" width="2" height="2" fill="#111"/>
<rect x="28.1" y="277.4" width="2" height="2" fill="#111"/>
<rect x="34.6" y="276.9" width="2" height="2" fill="#111"/>
<rect x="41.0" y="276.4" width="2" height="2" fill="#111"/>
<rect x="47.5" y="272.6" width="2" height="2" fill="#111"/>
<rect x="54.0" y="262.5" width="2" height="2" fill="#111"/>
<rect x="60.4" y="246.2" width="2" height="2" fill="#111"/>
<rect x="66.9" y="235.6" width="2" height="2" fill="#111"/>
<rect x="73.4" y="234.7" width="2" height="2" fill="#111"/>
<rect x="79.8" y="237.8" width="2" height="2" fill="#111"/>
<rect x="86.3" y="240.2" width="2" height="2" fill="#111"/>
<rect x="92.8" y="241.1" width="2" height="2" fill="#111"/>
<rect x="99.2" y="241.1" width="2" height="2" fill="#111"/>
<rect x="105.7" y="240.6" width="2" height="2" fill="#111"/>
<rect x="112.2" y="238.5" width="2" height="2" fill="#111"/>
<path d="M48.5 271.2V274.1M47.5 271.2h2M47.5 274.1h2" stroke="#c4242c" stroke-width="0.8" fill="none"/>
<path d="M55.0 259.2V265.0M54.0 259.2h2M54.0 265.0h2" stroke="#c4242c" stroke-width="0.8" fill="none"/>
<path d="M61.4 240.0V247.7M60.4 240.0h2M60.4 247.7h2" stroke="#c4242c" stroke-width="0.8" fill="none"/>
<path d="M67.9 225.6V233.3M66.9 225.6h2M66.9 233.3h2" stroke="#c4242c" stroke-width="0.8" fill="none"/>
<path d="M74.4 219.8V227.5M73.4 219.8h2M73.4 227.5h2" stroke="#c4242c" stroke-width="0.8" fill="none"/>
<path d="M80.8 222.7V230.4M79.8 222.7h2M79.8 230.4h2" stroke="#c4242c" stroke-width="0.8" fill="none"/>
<path d="M87.3 230.4V238.1M86.3 230.4h2M86.3 238.1h2" stroke="#c4242c" stroke-width="0.8" fill="none"/>
<path d="M93.8 235.2V242.9M92.8 235.2h2M92.8 242.9h2" stroke="#c4242c" stroke-width="0.8" fill="none"/>
<path d="M100.2 237.1V244.8M99.2 237.1h2M99.2 244.8h2" stroke="#c4242c" stroke-width="0.8" fill="none"/>
<path d="M106.7 236.2V243.8M105.7 236.2h2M105.7 243.8h2" stroke="#c4242c" stroke-width="0.8" fill="none"/>
<path d="M113.2 234.2V243.8M112.2 234.2h2M112.2 243.8h2" stroke="#c4242c" stroke-width="0.8" fill="none"/>
<polyline points="22.6,278.4 29.1,278.4 35.6,277.9 42.0,277.0 48.5,272.6 55.0,262.1 61.4,243.8 67.9,229.4 74.4,223.7 80.8,226.6 87.3,234.2 93.8,239.0 100.2,241.0 106.7,240.0 113.2,239.0" fill="none" stroke="#c4242c" stroke-width="1.15" stroke-linejoin="round"/>
<rect x="21.6" y="277.4" width="2" height="2" fill="#c4242c"/>
<rect x="28.1" y="277.4" width="2" height="2" fill="#c4242c"/>
<rect x="34.6" y="276.9" width="2" height="2" fill="#c4242c"/>
<rect x="41.0" y="276.0" width="2" height="2" fill="#c4242c"/>
<rect x="47.5" y="271.6" width="2" height="2" fill="#c4242c"/>
<rect x="54.0" y="261.1" width="2" height="2" fill="#c4242c"/>
<rect x="60.4" y="242.8" width="2" height="2" fill="#c4242c"/>
<rect x="66.9" y="228.4" width="2" height="2" fill="#c4242c"/>
<rect x="73.4" y="222.7" width="2" height="2" fill="#c4242c"/>
<rect x="79.8" y="225.6" width="2" height="2" fill="#c4242c"/>
<rect x="86.3" y="233.2" width="2" height="2" fill="#c4242c"/>
<rect x="92.8" y="238.0" width="2" height="2" fill="#c4242c"/>
<rect x="99.2" y="240.0" width="2" height="2" fill="#c4242c"/>
<rect x="105.7" y="239.0" width="2" height="2" fill="#c4242c"/>
<rect x="112.2" y="238.0" width="2" height="2" fill="#c4242c"/>
<line x1="25.6" y1="223.1" x2="32.800000000000004" y2="223.1" stroke="#111" stroke-width="0.8"/>
<rect x="28.2" y="222.1" width="2" height="2" fill="#111"/>
<text x="35.1" y="224.6" font-size="4.1" text-anchor="start" font-weight="normal" fill="#6a6a6a" stroke="#6a6a6a" stroke-width="0" >Y652A</text>
<line x1="25.6" y1="227.6" x2="32.800000000000004" y2="227.6" stroke="#c4242c" stroke-width="0.8"/>
<rect x="28.2" y="226.6" width="2" height="2" fill="#c4242c"/>
<text x="35.1" y="229.1" font-size="4.1" text-anchor="start" font-weight="normal" fill="#6a6a6a" stroke="#6a6a6a" stroke-width="0" >Y652A+HCQ</text>
<path d="M148.1 212.7V285.4H245.5" stroke="#111" stroke-width="0.9" fill="none"/>
<line x1="145.9" y1="279.9" x2="148.1" y2="279.9" stroke="#111" stroke-width="0.8"/>
<text x="144.0" y="282.6" font-size="6.6" text-anchor="end" font-weight="normal" fill="#1a1a1a" stroke="#1a1a1a" stroke-width="0.22" >0</text>
<line x1="145.9" y1="249.1" x2="148.1" y2="249.1" stroke="#111" stroke-width="0.8"/>
<text x="144.0" y="251.8" font-size="6.6" text-anchor="end" font-weight="normal" fill="#1a1a1a" stroke="#1a1a1a" stroke-width="0.22" >30</text>
<line x1="145.9" y1="218.4" x2="148.1" y2="218.4" stroke="#111" stroke-width="0.8"/>
<text x="144.0" y="221.1" font-size="6.6" text-anchor="end" font-weight="normal" fill="#1a1a1a" stroke="#1a1a1a" stroke-width="0.22" >60</text>
<line x1="158.3" y1="285.4" x2="158.3" y2="287.59999999999997" stroke="#111" stroke-width="0.8"/>
<text x="158.3" y="295.1" font-size="6.4" text-anchor="middle" font-weight="normal" fill="#1a1a1a" stroke="#1a1a1a" stroke-width="0.22" >-60</text>
<line x1="177.7" y1="285.4" x2="177.7" y2="287.59999999999997" stroke="#111" stroke-width="0.8"/>
<text x="177.7" y="295.1" font-size="6.4" text-anchor="middle" font-weight="normal" fill="#1a1a1a" stroke="#1a1a1a" stroke-width="0.22" >-30</text>
<line x1="197.1" y1="285.4" x2="197.1" y2="287.59999999999997" stroke="#111" stroke-width="0.8"/>
<text x="197.1" y="295.1" font-size="6.4" text-anchor="middle" font-weight="normal" fill="#1a1a1a" stroke="#1a1a1a" stroke-width="0.22" >0</text>
<line x1="216.5" y1="285.4" x2="216.5" y2="287.59999999999997" stroke="#111" stroke-width="0.8"/>
<text x="216.5" y="295.1" font-size="6.4" text-anchor="middle" font-weight="normal" fill="#1a1a1a" stroke="#1a1a1a" stroke-width="0.22" >30</text>
<line x1="235.9" y1="285.4" x2="235.9" y2="287.59999999999997" stroke="#111" stroke-width="0.8"/>
<text x="235.9" y="295.1" font-size="6.4" text-anchor="middle" font-weight="normal" fill="#1a1a1a" stroke="#1a1a1a" stroke-width="0.22" >60</text>
<text x="196.0" y="301.9" font-size="6.6" text-anchor="middle" font-weight="normal" fill="#1a1a1a" stroke="#1a1a1a" stroke-width="0.22" >Voltage (mV)</text>
<text transform="translate(134.0,214.0) rotate(-90) scale(1,0.96)" font-size="6.6" text-anchor="end" fill="#222" stroke="#222" stroke-width="0.2"><tspan font-style="italic">I</tspan><tspan font-size="4.9" dy="2.2" fill="#707070" stroke="none">hERG-tail</tspan><tspan dy="-2.2"> density (pA/pF)</tspan></text>
<path d="M177.7 272.2V275.3M176.7 272.2h2M176.7 275.3h2" stroke="#111" stroke-width="0.8" fill="none"/>
<path d="M184.2 258.4V266.6M183.2 258.4h2M183.2 266.6h2" stroke="#111" stroke-width="0.8" fill="none"/>
<path d="M190.6 242.0V256.3M189.6 242.0h2M189.6 256.3h2" stroke="#111" stroke-width="0.8" fill="none"/>
<path d="M197.1 229.7V248.1M196.1 229.7h2M196.1 248.1h2" stroke="#111" stroke-width="0.8" fill="none"/>
<path d="M203.6 224.5V245.0M202.6 224.5h2M202.6 245.0h2" stroke="#111" stroke-width="0.8" fill="none"/>
<path d="M210.0 224.0V244.5M209.0 224.0h2M209.0 244.5h2" stroke="#111" stroke-width="0.8" fill="none"/>
<path d="M216.5 223.5V244.0M215.5 223.5h2M215.5 244.0h2" stroke="#111" stroke-width="0.8" fill="none"/>
<path d="M223.0 223.5V244.0M222.0 223.5h2M222.0 244.0h2" stroke="#111" stroke-width="0.8" fill="none"/>
<path d="M229.4 224.0V244.5M228.4 224.0h2M228.4 244.5h2" stroke="#111" stroke-width="0.8" fill="none"/>
<path d="M235.9 225.6V244.0M234.9 225.6h2M234.9 244.0h2" stroke="#111" stroke-width="0.8" fill="none"/>
<path d="M242.4 226.6V245.0M241.4 226.6h2M241.4 245.0h2" stroke="#111" stroke-width="0.8" fill="none"/>
<polyline points="151.8,277.3 158.3,277.8 164.8,277.8 171.2,277.3 177.7,273.8 184.2,262.5 190.6,249.1 197.1,238.9 203.6,234.8 210.0,234.3 216.5,233.8 223.0,233.8 229.4,234.3 235.9,234.8 242.4,235.8" fill="none" stroke="#111" stroke-width="1.15" stroke-linejoin="round"/>
<rect x="150.8" y="276.3" width="2" height="2" fill="#111"/>
<rect x="157.3" y="276.8" width="2" height="2" fill="#111"/>
<rect x="163.8" y="276.8" width="2" height="2" fill="#111"/>
<rect x="170.2" y="276.3" width="2" height="2" fill="#111"/>
<rect x="176.7" y="272.8" width="2" height="2" fill="#111"/>
<rect x="183.2" y="261.5" width="2" height="2" fill="#111"/>
<rect x="189.6" y="248.1" width="2" height="2" fill="#111"/>
<rect x="196.1" y="237.9" width="2" height="2" fill="#111"/>
<rect x="202.6" y="233.8" width="2" height="2" fill="#111"/>
<rect x="209.0" y="233.3" width="2" height="2" fill="#111"/>
<rect x="215.5" y="232.8" width="2" height="2" fill="#111"/>
<rect x="222.0" y="232.8" width="2" height="2" fill="#111"/>
<rect x="228.4" y="233.3" width="2" height="2" fill="#111"/>
<rect x="234.9" y="233.8" width="2" height="2" fill="#111"/>
<rect x="241.4" y="234.8" width="2" height="2" fill="#111"/>
<path d="M177.7 273.2V276.3M176.7 273.2h2M176.7 276.3h2" stroke="#c4242c" stroke-width="0.8" fill="none"/>
<path d="M184.2 261.4V267.6M183.2 261.4h2M183.2 267.6h2" stroke="#c4242c" stroke-width="0.8" fill="none"/>
<path d="M190.6 246.1V256.3M189.6 246.1h2M189.6 256.3h2" stroke="#c4242c" stroke-width="0.8" fill="none"/>
<path d="M197.1 236.8V247.1M196.1 236.8h2M196.1 247.1h2" stroke="#c4242c" stroke-width="0.8" fill="none"/>
<path d="M203.6 234.8V245.0M202.6 234.8h2M202.6 245.0h2" stroke="#c4242c" stroke-width="0.8" fill="none"/>
<path d="M210.0 233.8V244.0M209.0 233.8h2M209.0 244.0h2" stroke="#c4242c" stroke-width="0.8" fill="none"/>
<path d="M216.5 230.7V240.9M215.5 230.7h2M215.5 240.9h2" stroke="#c4242c" stroke-width="0.8" fill="none"/>
<path d="M223.0 228.6V240.9M222.0 228.6h2M222.0 240.9h2" stroke="#c4242c" stroke-width="0.8" fill="none"/>
<path d="M229.4 228.6V240.9M228.4 228.6h2M228.4 240.9h2" stroke="#c4242c" stroke-width="0.8" fill="none"/>
<path d="M235.9 229.2V241.5M234.9 229.2h2M234.9 241.5h2" stroke="#c4242c" stroke-width="0.8" fill="none"/>
<path d="M242.4 229.7V242.0M241.4 229.7h2M241.4 242.0h2" stroke="#c4242c" stroke-width="0.8" fill="none"/>
<polyline points="151.8,277.3 158.3,277.8 164.8,277.8 171.2,277.3 177.7,274.8 184.2,264.5 190.6,251.2 197.1,242.0 203.6,239.9 210.0,238.9 216.5,235.8 223.0,234.8 229.4,234.8 235.9,235.3 242.4,235.8" fill="none" stroke="#c4242c" stroke-width="1.15" stroke-linejoin="round"/>
<rect x="150.8" y="276.3" width="2" height="2" fill="#c4242c"/>
<rect x="157.3" y="276.8" width="2" height="2" fill="#c4242c"/>
<rect x="163.8" y="276.8" width="2" height="2" fill="#c4242c"/>
<rect x="170.2" y="276.3" width="2" height="2" fill="#c4242c"/>
<rect x="176.7" y="273.8" width="2" height="2" fill="#c4242c"/>
<rect x="183.2" y="263.5" width="2" height="2" fill="#c4242c"/>
<rect x="189.6" y="250.2" width="2" height="2" fill="#c4242c"/>
<rect x="196.1" y="241.0" width="2" height="2" fill="#c4242c"/>
<rect x="202.6" y="238.9" width="2" height="2" fill="#c4242c"/>
<rect x="209.0" y="237.9" width="2" height="2" fill="#c4242c"/>
<rect x="215.5" y="234.8" width="2" height="2" fill="#c4242c"/>
<rect x="222.0" y="233.8" width="2" height="2" fill="#c4242c"/>
<rect x="228.4" y="233.8" width="2" height="2" fill="#c4242c"/>
<rect x="234.9" y="234.3" width="2" height="2" fill="#c4242c"/>
<rect x="241.4" y="234.8" width="2" height="2" fill="#c4242c"/>
<line x1="152.4" y1="221.7" x2="161.0" y2="221.7" stroke="#111" stroke-width="0.8"/>
<rect x="155.7" y="220.7" width="2" height="2" fill="#111"/>
<text x="163.1" y="223.2" font-size="4.1" text-anchor="start" font-weight="normal" fill="#6a6a6a" stroke="#6a6a6a" stroke-width="0" >Y652A</text>
<line x1="152.4" y1="226.39999999999998" x2="161.0" y2="226.39999999999998" stroke="#c4242c" stroke-width="0.8"/>
<rect x="155.7" y="225.39999999999998" width="2" height="2" fill="#c4242c"/>
<text x="163.1" y="227.9" font-size="4.1" text-anchor="start" font-weight="normal" fill="#6a6a6a" stroke="#6a6a6a" stroke-width="0" >Y652A+HCQ</text>
<path d="M293.6 213.2V285.4H391" stroke="#111" stroke-width="0.9" fill="none"/>
<line x1="291.40000000000003" y1="280.8" x2="293.6" y2="280.8" stroke="#111" stroke-width="0.8"/>
<text x="289.5" y="283.5" font-size="6.6" text-anchor="end" font-weight="normal" fill="#1a1a1a" stroke="#1a1a1a" stroke-width="0.22" >0</text>
<line x1="291.40000000000003" y1="251.1" x2="293.6" y2="251.1" stroke="#111" stroke-width="0.8"/>
<text x="289.5" y="253.8" font-size="6.6" text-anchor="end" font-weight="normal" fill="#1a1a1a" stroke="#1a1a1a" stroke-width="0.22" >20</text>
<line x1="291.40000000000003" y1="221.3" x2="293.6" y2="221.3" stroke="#111" stroke-width="0.8"/>
<text x="289.5" y="224.0" font-size="6.6" text-anchor="end" font-weight="normal" fill="#1a1a1a" stroke="#1a1a1a" stroke-width="0.22" >40</text>
<line x1="303.8" y1="285.4" x2="303.8" y2="287.59999999999997" stroke="#111" stroke-width="0.8"/>
<text x="303.8" y="295.1" font-size="6.4" text-anchor="middle" font-weight="normal" fill="#1a1a1a" stroke="#1a1a1a" stroke-width="0.22" >-60</text>
<line x1="323.1" y1="285.4" x2="323.1" y2="287.59999999999997" stroke="#111" stroke-width="0.8"/>
<text x="323.1" y="295.1" font-size="6.4" text-anchor="middle" font-weight="normal" fill="#1a1a1a" stroke="#1a1a1a" stroke-width="0.22" >-30</text>
<line x1="342.4" y1="285.4" x2="342.4" y2="287.59999999999997" stroke="#111" stroke-width="0.8"/>
<text x="342.4" y="295.1" font-size="6.4" text-anchor="middle" font-weight="normal" fill="#1a1a1a" stroke="#1a1a1a" stroke-width="0.22" >0</text>
<line x1="361.8" y1="285.4" x2="361.8" y2="287.59999999999997" stroke="#111" stroke-width="0.8"/>
<text x="361.8" y="295.1" font-size="6.4" text-anchor="middle" font-weight="normal" fill="#1a1a1a" stroke="#1a1a1a" stroke-width="0.22" >30</text>
<line x1="381.1" y1="285.4" x2="381.1" y2="287.59999999999997" stroke="#111" stroke-width="0.8"/>
<text x="381.1" y="295.1" font-size="6.4" text-anchor="middle" font-weight="normal" fill="#1a1a1a" stroke="#1a1a1a" stroke-width="0.22" >60</text>
<text x="342.0" y="301.9" font-size="6.6" text-anchor="middle" font-weight="normal" fill="#1a1a1a" stroke="#1a1a1a" stroke-width="0.22" >Voltage (mV)</text>
<text transform="translate(278.9,211.8) rotate(-90) scale(1,0.96)" font-size="6.6" text-anchor="end" fill="#222" stroke="#222" stroke-width="0.2"><tspan font-style="italic">I</tspan><tspan font-size="4.9" dy="2.2" fill="#707070" stroke="none">hERG-pulse</tspan><tspan dy="-2.2"> density (pA/pF)</tspan></text>
<path d="M297.3 275.3V277.4M296.3 275.3h2M296.3 277.4h2" stroke="#111" stroke-width="0.8" fill="none"/>
<path d="M303.8 276.8V278.9M302.8 276.8h2M302.8 278.9h2" stroke="#111" stroke-width="0.8" fill="none"/>
<path d="M310.2 276.0V278.1M309.2 276.0h2M309.2 278.1h2" stroke="#111" stroke-width="0.8" fill="none"/>
<path d="M316.6 275.3V277.4M315.6 275.3h2M315.6 277.4h2" stroke="#111" stroke-width="0.8" fill="none"/>
<path d="M323.1 269.6V274.1M322.1 269.6h2M322.1 274.1h2" stroke="#111" stroke-width="0.8" fill="none"/>
<path d="M329.6 260.7V268.2M328.6 260.7h2M328.6 268.2h2" stroke="#111" stroke-width="0.8" fill="none"/>
<path d="M336.0 246.6V255.5M335.0 246.6h2M335.0 255.5h2" stroke="#111" stroke-width="0.8" fill="none"/>
<path d="M342.4 231.0V241.4M341.4 231.0h2M341.4 241.4h2" stroke="#111" stroke-width="0.8" fill="none"/>
<path d="M348.9 222.8V234.7M347.9 222.8h2M347.9 234.7h2" stroke="#111" stroke-width="0.8" fill="none"/>
<path d="M355.4 218.3V233.2M354.4 218.3h2M354.4 233.2h2" stroke="#111" stroke-width="0.8" fill="none"/>
<path d="M361.8 221.3V236.2M360.8 221.3h2M360.8 236.2h2" stroke="#111" stroke-width="0.8" fill="none"/>
<path d="M368.2 231.0V244.4M367.2 231.0h2M367.2 244.4h2" stroke="#111" stroke-width="0.8" fill="none"/>
<path d="M374.7 231.0V244.4M373.7 231.0h2M373.7 244.4h2" stroke="#111" stroke-width="0.8" fill="none"/>
<path d="M381.1 228.0V241.4M380.1 228.0h2M380.1 241.4h2" stroke="#111" stroke-width="0.8" fill="none"/>
<path d="M387.6 225.8V240.6M386.6 225.8h2M386.6 240.6h2" stroke="#111" stroke-width="0.8" fill="none"/>
<polyline points="297.3,276.3 303.8,277.8 310.2,277.1 316.6,276.3 323.1,271.9 329.6,264.4 336.0,251.1 342.4,236.2 348.9,228.7 355.4,225.8 361.8,228.7 368.2,237.7 374.7,237.7 381.1,234.7 387.6,233.2" fill="none" stroke="#111" stroke-width="1.15" stroke-linejoin="round"/>
<rect x="296.3" y="275.3" width="2" height="2" fill="#111"/>
<rect x="302.8" y="276.8" width="2" height="2" fill="#111"/>
<rect x="309.2" y="276.1" width="2" height="2" fill="#111"/>
<rect x="315.6" y="275.3" width="2" height="2" fill="#111"/>
<rect x="322.1" y="270.9" width="2" height="2" fill="#111"/>
<rect x="328.6" y="263.4" width="2" height="2" fill="#111"/>
<rect x="335.0" y="250.1" width="2" height="2" fill="#111"/>
<rect x="341.4" y="235.2" width="2" height="2" fill="#111"/>
<rect x="347.9" y="227.7" width="2" height="2" fill="#111"/>
<rect x="354.4" y="224.8" width="2" height="2" fill="#111"/>
<rect x="360.8" y="227.7" width="2" height="2" fill="#111"/>
<rect x="367.2" y="236.7" width="2" height="2" fill="#111"/>
<rect x="373.7" y="236.7" width="2" height="2" fill="#111"/>
<rect x="380.1" y="233.7" width="2" height="2" fill="#111"/>
<rect x="386.6" y="232.2" width="2" height="2" fill="#111"/>
<path d="M297.3 275.3V277.4M296.3 275.3h2M296.3 277.4h2" stroke="#c4242c" stroke-width="0.8" fill="none"/>
<path d="M303.8 276.0V278.1M302.8 276.0h2M302.8 278.1h2" stroke="#c4242c" stroke-width="0.8" fill="none"/>
<path d="M310.2 275.3V277.4M309.2 275.3h2M309.2 277.4h2" stroke="#c4242c" stroke-width="0.8" fill="none"/>
<path d="M316.6 274.6V276.6M315.6 274.6h2M315.6 276.6h2" stroke="#c4242c" stroke-width="0.8" fill="none"/>
<path d="M323.1 268.9V273.4M322.1 268.9h2M322.1 273.4h2" stroke="#c4242c" stroke-width="0.8" fill="none"/>
<path d="M329.6 259.2V266.7M328.6 259.2h2M328.6 266.7h2" stroke="#c4242c" stroke-width="0.8" fill="none"/>
<path d="M336.0 245.1V254.0M335.0 245.1h2M335.0 254.0h2" stroke="#c4242c" stroke-width="0.8" fill="none"/>
<path d="M342.4 230.2V239.2M341.4 230.2h2M341.4 239.2h2" stroke="#c4242c" stroke-width="0.8" fill="none"/>
<path d="M348.9 221.3V230.2M347.9 221.3h2M347.9 230.2h2" stroke="#c4242c" stroke-width="0.8" fill="none"/>
<path d="M355.4 218.3V227.3M354.4 218.3h2M354.4 227.3h2" stroke="#c4242c" stroke-width="0.8" fill="none"/>
<path d="M361.8 222.8V231.7M360.8 222.8h2M360.8 231.7h2" stroke="#c4242c" stroke-width="0.8" fill="none"/>
<path d="M368.2 224.3V233.2M367.2 224.3h2M367.2 233.2h2" stroke="#c4242c" stroke-width="0.8" fill="none"/>
<path d="M374.7 230.2V239.2M373.7 230.2h2M373.7 239.2h2" stroke="#c4242c" stroke-width="0.8" fill="none"/>
<path d="M381.1 228.7V237.7M380.1 228.7h2M380.1 237.7h2" stroke="#c4242c" stroke-width="0.8" fill="none"/>
<path d="M387.6 227.3V239.2M386.6 227.3h2M386.6 239.2h2" stroke="#c4242c" stroke-width="0.8" fill="none"/>
<polyline points="297.3,276.3 303.8,277.1 310.2,276.3 316.6,275.6 323.1,271.1 329.6,262.9 336.0,249.6 342.4,234.7 348.9,225.8 355.4,222.8 361.8,227.2 368.2,228.7 374.7,234.7 381.1,233.2 387.6,233.2" fill="none" stroke="#c4242c" stroke-width="1.15" stroke-linejoin="round"/>
<rect x="296.3" y="275.3" width="2" height="2" fill="#c4242c"/>
<rect x="302.8" y="276.1" width="2" height="2" fill="#c4242c"/>
<rect x="309.2" y="275.3" width="2" height="2" fill="#c4242c"/>
<rect x="315.6" y="274.6" width="2" height="2" fill="#c4242c"/>
<rect x="322.1" y="270.1" width="2" height="2" fill="#c4242c"/>
<rect x="328.6" y="261.9" width="2" height="2" fill="#c4242c"/>
<rect x="335.0" y="248.6" width="2" height="2" fill="#c4242c"/>
<rect x="341.4" y="233.7" width="2" height="2" fill="#c4242c"/>
<rect x="347.9" y="224.8" width="2" height="2" fill="#c4242c"/>
<rect x="354.4" y="221.8" width="2" height="2" fill="#c4242c"/>
<rect x="360.8" y="226.2" width="2" height="2" fill="#c4242c"/>
<rect x="367.2" y="227.7" width="2" height="2" fill="#c4242c"/>
<rect x="373.7" y="233.7" width="2" height="2" fill="#c4242c"/>
<rect x="380.1" y="232.2" width="2" height="2" fill="#c4242c"/>
<rect x="386.6" y="232.2" width="2" height="2" fill="#c4242c"/>
<line x1="297.5" y1="221.8" x2="306.1" y2="221.8" stroke="#111" stroke-width="0.8"/>
<rect x="300.8" y="220.8" width="2" height="2" fill="#111"/>
<text x="307.9" y="223.3" font-size="4.1" text-anchor="start" font-weight="normal" fill="#6a6a6a" stroke="#6a6a6a" stroke-width="0" >F656A</text>
<line x1="297.5" y1="226.4" x2="306.1" y2="226.4" stroke="#c4242c" stroke-width="0.8"/>
<rect x="300.8" y="225.4" width="2" height="2" fill="#c4242c"/>
<text x="307.9" y="227.9" font-size="4.1" text-anchor="start" font-weight="normal" fill="#6a6a6a" stroke="#6a6a6a" stroke-width="0" >F656A+HCQ</text>
<path d="M423.5 213.7V285.9H519.5" stroke="#111" stroke-width="0.9" fill="none"/>
<line x1="421.3" y1="282.3" x2="423.5" y2="282.3" stroke="#111" stroke-width="0.8"/>
<text x="419.4" y="285.0" font-size="6.6" text-anchor="end" font-weight="normal" fill="#1a1a1a" stroke="#1a1a1a" stroke-width="0.22" >0</text>
<line x1="421.3" y1="257.6" x2="423.5" y2="257.6" stroke="#111" stroke-width="0.8"/>
<text x="419.4" y="260.3" font-size="6.6" text-anchor="end" font-weight="normal" fill="#1a1a1a" stroke="#1a1a1a" stroke-width="0.22" >20</text>
<line x1="421.3" y1="232.9" x2="423.5" y2="232.9" stroke="#111" stroke-width="0.8"/>
<text x="419.4" y="235.6" font-size="6.6" text-anchor="end" font-weight="normal" fill="#1a1a1a" stroke="#1a1a1a" stroke-width="0.22" >40</text>
<line x1="433.0" y1="285.9" x2="433.0" y2="288.09999999999997" stroke="#111" stroke-width="0.8"/>
<text x="433.0" y="295.6" font-size="6.4" text-anchor="middle" font-weight="normal" fill="#1a1a1a" stroke="#1a1a1a" stroke-width="0.22" >-60</text>
<line x1="452.4" y1="285.9" x2="452.4" y2="288.09999999999997" stroke="#111" stroke-width="0.8"/>
<text x="452.4" y="295.6" font-size="6.4" text-anchor="middle" font-weight="normal" fill="#1a1a1a" stroke="#1a1a1a" stroke-width="0.22" >-30</text>
<line x1="471.7" y1="285.9" x2="471.7" y2="288.09999999999997" stroke="#111" stroke-width="0.8"/>
<text x="471.7" y="295.6" font-size="6.4" text-anchor="middle" font-weight="normal" fill="#1a1a1a" stroke="#1a1a1a" stroke-width="0.22" >0</text>
<line x1="491.1" y1="285.9" x2="491.1" y2="288.09999999999997" stroke="#111" stroke-width="0.8"/>
<text x="491.1" y="295.6" font-size="6.4" text-anchor="middle" font-weight="normal" fill="#1a1a1a" stroke="#1a1a1a" stroke-width="0.22" >30</text>
<line x1="510.4" y1="285.9" x2="510.4" y2="288.09999999999997" stroke="#111" stroke-width="0.8"/>
<text x="510.4" y="295.6" font-size="6.4" text-anchor="middle" font-weight="normal" fill="#1a1a1a" stroke="#1a1a1a" stroke-width="0.22" >60</text>
<text x="471.2" y="301.9" font-size="6.6" text-anchor="middle" font-weight="normal" fill="#1a1a1a" stroke="#1a1a1a" stroke-width="0.22" >Voltage (mV)</text>
<text transform="translate(408.5,215.1) rotate(-90) scale(1,0.96)" font-size="6.6" text-anchor="end" fill="#222" stroke="#222" stroke-width="0.2"><tspan font-style="italic">I</tspan><tspan font-size="4.9" dy="2.2" fill="#707070" stroke="none">hERG-tail</tspan><tspan dy="-2.2"> density (pA/pF)</tspan></text>
<path d="M426.6 277.7V279.5M425.6 277.7h2M425.6 279.5h2" stroke="#111" stroke-width="0.8" fill="none"/>
<path d="M433.0 279.0V280.7M432.0 279.0h2M432.0 280.7h2" stroke="#111" stroke-width="0.8" fill="none"/>
<path d="M439.4 278.3V280.1M438.4 278.3h2M438.4 280.1h2" stroke="#111" stroke-width="0.8" fill="none"/>
<path d="M445.9 277.7V279.5M444.9 277.7h2M444.9 279.5h2" stroke="#111" stroke-width="0.8" fill="none"/>
<path d="M452.4 275.5V279.2M451.4 275.5h2M451.4 279.2h2" stroke="#111" stroke-width="0.8" fill="none"/>
<path d="M458.8 269.3V275.5M457.8 269.3h2M457.8 275.5h2" stroke="#111" stroke-width="0.8" fill="none"/>
<path d="M465.2 256.4V266.2M464.2 256.4h2M464.2 266.2h2" stroke="#111" stroke-width="0.8" fill="none"/>
<path d="M471.7 241.5V253.9M470.7 241.5h2M470.7 253.9h2" stroke="#111" stroke-width="0.8" fill="none"/>
<path d="M478.1 232.9V247.7M477.1 232.9h2M477.1 247.7h2" stroke="#111" stroke-width="0.8" fill="none"/>
<path d="M484.6 230.4V245.2M483.6 230.4h2M483.6 245.2h2" stroke="#111" stroke-width="0.8" fill="none"/>
<path d="M491.1 219.3V244.0M490.1 219.3h2M490.1 244.0h2" stroke="#111" stroke-width="0.8" fill="none"/>
<path d="M497.5 230.4V245.2M496.5 230.4h2M496.5 245.2h2" stroke="#111" stroke-width="0.8" fill="none"/>
<path d="M503.9 230.4V245.2M502.9 230.4h2M502.9 245.2h2" stroke="#111" stroke-width="0.8" fill="none"/>
<path d="M510.4 230.4V245.2M509.4 230.4h2M509.4 245.2h2" stroke="#111" stroke-width="0.8" fill="none"/>
<path d="M516.9 229.8V244.6M515.9 229.8h2M515.9 244.6h2" stroke="#111" stroke-width="0.8" fill="none"/>
<polyline points="426.6,278.6 433.0,279.8 439.4,279.2 445.9,278.6 452.4,277.4 458.8,272.4 465.2,261.3 471.7,247.7 478.1,240.3 484.6,237.8 491.1,231.7 497.5,237.8 503.9,237.8 510.4,237.8 516.9,237.2" fill="none" stroke="#111" stroke-width="1.15" stroke-linejoin="round"/>
<rect x="425.6" y="277.6" width="2" height="2" fill="#111"/>
<rect x="432.0" y="278.8" width="2" height="2" fill="#111"/>
<rect x="438.4" y="278.2" width="2" height="2" fill="#111"/>
<rect x="444.9" y="277.6" width="2" height="2" fill="#111"/>
<rect x="451.4" y="276.4" width="2" height="2" fill="#111"/>
<rect x="457.8" y="271.4" width="2" height="2" fill="#111"/>
<rect x="464.2" y="260.3" width="2" height="2" fill="#111"/>
<rect x="470.7" y="246.7" width="2" height="2" fill="#111"/>
<rect x="477.1" y="239.3" width="2" height="2" fill="#111"/>
<rect x="483.6" y="236.8" width="2" height="2" fill="#111"/>
<rect x="490.1" y="230.7" width="2" height="2" fill="#111"/>
<rect x="496.5" y="236.8" width="2" height="2" fill="#111"/>
<rect x="502.9" y="236.8" width="2" height="2" fill="#111"/>
<rect x="509.4" y="236.8" width="2" height="2" fill="#111"/>
<rect x="515.9" y="236.2" width="2" height="2" fill="#111"/>
<path d="M426.6 276.5V278.2M425.6 276.5h2M425.6 278.2h2" stroke="#c4242c" stroke-width="0.8" fill="none"/>
<path d="M433.0 277.1V278.8M432.0 277.1h2M432.0 278.8h2" stroke="#c4242c" stroke-width="0.8" fill="none"/>
<path d="M439.4 277.1V278.8M438.4 277.1h2M438.4 278.8h2" stroke="#c4242c" stroke-width="0.8" fill="none"/>
<path d="M445.9 277.1V278.8M444.9 277.1h2M444.9 278.8h2" stroke="#c4242c" stroke-width="0.8" fill="none"/>
<path d="M452.4 274.3V278.0M451.4 274.3h2M451.4 278.0h2" stroke="#c4242c" stroke-width="0.8" fill="none"/>
<path d="M458.8 271.2V276.1M457.8 271.2h2M457.8 276.1h2" stroke="#c4242c" stroke-width="0.8" fill="none"/>
<path d="M465.2 262.5V269.9M464.2 262.5h2M464.2 269.9h2" stroke="#c4242c" stroke-width="0.8" fill="none"/>
<path d="M471.7 251.4V261.3M470.7 251.4h2M470.7 261.3h2" stroke="#c4242c" stroke-width="0.8" fill="none"/>
<path d="M478.1 244.0V256.4M477.1 244.0h2M477.1 256.4h2" stroke="#c4242c" stroke-width="0.8" fill="none"/>
<path d="M484.6 240.3V252.7M483.6 240.3h2M483.6 252.7h2" stroke="#c4242c" stroke-width="0.8" fill="none"/>
<path d="M491.1 237.8V250.2M490.1 237.8h2M490.1 250.2h2" stroke="#c4242c" stroke-width="0.8" fill="none"/>
<path d="M497.5 239.1V251.4M496.5 239.1h2M496.5 251.4h2" stroke="#c4242c" stroke-width="0.8" fill="none"/>
<path d="M503.9 237.8V250.2M502.9 237.8h2M502.9 250.2h2" stroke="#c4242c" stroke-width="0.8" fill="none"/>
<path d="M510.4 236.6V249.0M509.4 236.6h2M509.4 249.0h2" stroke="#c4242c" stroke-width="0.8" fill="none"/>
<path d="M516.9 237.8V250.2M515.9 237.8h2M515.9 250.2h2" stroke="#c4242c" stroke-width="0.8" fill="none"/>
<polyline points="426.6,277.4 433.0,278.0 439.4,278.0 445.9,278.0 452.4,276.1 458.8,273.7 465.2,266.2 471.7,256.4 478.1,250.2 484.6,246.5 491.1,244.0 497.5,245.2 503.9,244.0 510.4,242.8 516.9,244.0" fill="none" stroke="#c4242c" stroke-width="1.15" stroke-linejoin="round"/>
<rect x="425.6" y="276.4" width="2" height="2" fill="#c4242c"/>
<rect x="432.0" y="277.0" width="2" height="2" fill="#c4242c"/>
<rect x="438.4" y="277.0" width="2" height="2" fill="#c4242c"/>
<rect x="444.9" y="277.0" width="2" height="2" fill="#c4242c"/>
<rect x="451.4" y="275.1" width="2" height="2" fill="#c4242c"/>
<rect x="457.8" y="272.7" width="2" height="2" fill="#c4242c"/>
<rect x="464.2" y="265.2" width="2" height="2" fill="#c4242c"/>
<rect x="470.7" y="255.4" width="2" height="2" fill="#c4242c"/>
<rect x="477.1" y="249.2" width="2" height="2" fill="#c4242c"/>
<rect x="483.6" y="245.5" width="2" height="2" fill="#c4242c"/>
<rect x="490.1" y="243.0" width="2" height="2" fill="#c4242c"/>
<rect x="496.5" y="244.2" width="2" height="2" fill="#c4242c"/>
<rect x="502.9" y="243.0" width="2" height="2" fill="#c4242c"/>
<rect x="509.4" y="241.8" width="2" height="2" fill="#c4242c"/>
<rect x="515.9" y="243.0" width="2" height="2" fill="#c4242c"/>
<line x1="427.5" y1="223.2" x2="435.6" y2="223.2" stroke="#111" stroke-width="0.8"/>
<rect x="430.6" y="222.2" width="2" height="2" fill="#111"/>
<text x="437.9" y="224.7" font-size="4.1" text-anchor="start" font-weight="normal" fill="#6a6a6a" stroke="#6a6a6a" stroke-width="0" >F656A</text>
<line x1="427.5" y1="227.6" x2="435.6" y2="227.6" stroke="#c4242c" stroke-width="0.8"/>
<rect x="430.6" y="226.6" width="2" height="2" fill="#c4242c"/>
<text x="437.9" y="229.1" font-size="4.1" text-anchor="start" font-weight="normal" fill="#6a6a6a" stroke="#6a6a6a" stroke-width="0" >F656A+HCQ</text>
<text x="119.0" y="327.2" font-size="9.6" text-anchor="middle" font-weight="bold" fill="#0a0a0a" stroke="#0a0a0a" stroke-width="0.3" >Y652A mutation of hERG channel</text>
<text x="418.8" y="327.2" font-size="9.6" text-anchor="middle" font-weight="bold" fill="#0a0a0a" stroke="#0a0a0a" stroke-width="0.3" >F656A mutation of hERG channel</text>
</svg></body></html>
